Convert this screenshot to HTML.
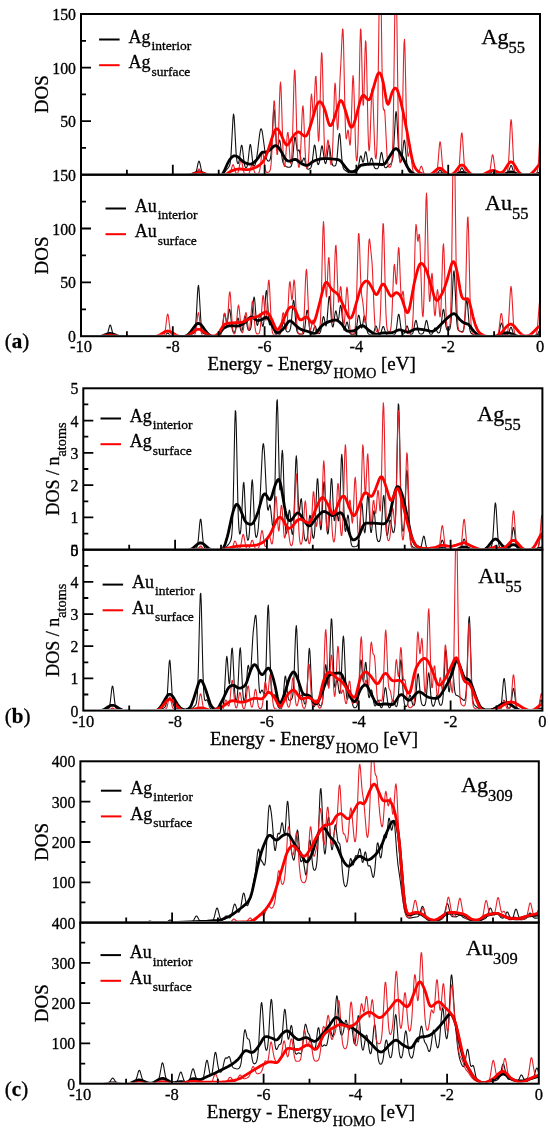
<!DOCTYPE html>
<html><head><meta charset="utf-8"><style>
html,body{margin:0;padding:0;background:#fff;width:550px;height:1132px;overflow:hidden;position:relative}
svg text{font-family:"Liberation Serif", "Times New Roman", serif;fill:#000;stroke:#000;stroke-width:0.3px}
</style></head><body>
<svg width="550" height="1132" viewBox="0 0 550 1132" style="position:absolute;left:0;top:0">
<defs>
<clipPath id="c0"><rect x="81" y="13.5" width="459" height="159.7"/></clipPath>
<clipPath id="c1"><rect x="81" y="174.2" width="459" height="160.5"/></clipPath>
<clipPath id="c2"><rect x="83.3" y="387.8" width="459.09999999999997" height="160.40000000000003"/></clipPath>
<clipPath id="c3"><rect x="83.3" y="549.2" width="459.09999999999997" height="159.89999999999998"/></clipPath>
<clipPath id="c4"><rect x="80.4" y="760.8" width="458.4" height="160.30000000000007"/></clipPath>
<clipPath id="c5"><rect x="80.2" y="922.1" width="458.59999999999997" height="160.10000000000002"/></clipPath>
</defs>
<g clip-path="url(#c0)" fill="none" stroke-linejoin="round">
<polyline points="81.0,175.2 182.0,175.2 187.0,175.1 190.0,174.9 192.0,174.6 194.0,174.1 195.0,173.6 195.5,173.1 196.0,172.2 196.5,170.8 198.0,163.7 198.5,161.8 199.0,161.1 199.5,161.8 200.0,163.7 201.5,170.8 202.0,172.2 202.5,173.1 203.0,173.6 203.5,173.9 205.0,174.3 207.0,174.7 211.0,175.1 219.0,175.2 221.0,174.9 222.0,174.5 223.0,173.9 224.0,173.0 228.5,167.5 229.5,165.7 230.0,163.9 230.5,160.7 231.0,155.4 233.0,118.3 233.5,114.1 234.0,115.8 234.5,122.7 236.0,151.6 236.5,157.7 237.0,161.3 237.5,163.1 238.0,163.6 238.5,163.1 239.0,161.5 239.5,158.8 241.0,147.1 241.5,145.2 242.0,145.7 242.5,148.5 244.0,161.6 244.5,164.6 245.0,166.4 245.5,167.4 246.0,167.8 246.5,167.6 247.0,166.7 247.5,164.9 248.0,161.8 249.5,147.8 250.0,144.8 250.5,144.5 251.0,146.9 252.5,160.5 253.0,163.7 253.5,165.4 254.0,166.1 254.5,165.8 255.0,164.9 255.5,163.5 256.5,158.9 257.5,152.1 259.5,135.2 260.0,132.0 260.5,129.7 261.0,128.7 261.5,129.1 262.0,130.6 262.5,133.3 265.0,151.8 266.0,156.9 266.5,158.6 267.0,159.8 267.5,160.5 268.0,160.9 268.5,161.1 269.0,161.0 269.5,160.6 270.0,159.8 270.5,158.0 271.0,154.6 271.5,148.9 272.0,140.7 273.0,120.0 273.5,112.1 274.0,109.0 274.5,111.7 275.0,119.2 276.0,138.5 276.5,145.5 277.0,149.0 277.5,149.3 278.0,147.2 279.0,141.1 279.5,140.0 280.0,141.1 280.5,144.3 282.0,157.5 282.5,160.4 283.0,162.4 283.5,163.7 284.0,164.6 285.0,165.7 286.0,166.4 287.0,166.9 288.0,167.2 289.5,167.2 290.5,166.9 291.0,166.4 291.5,165.3 292.0,163.3 292.5,160.1 293.0,155.3 294.0,143.5 294.5,138.9 295.0,137.0 295.5,138.3 297.0,149.5 297.5,151.0 298.0,150.9 298.5,150.1 299.0,149.9 299.5,151.1 301.0,159.9 301.5,161.8 302.0,162.2 302.5,161.3 303.5,158.4 304.0,158.0 304.5,158.8 306.5,167.0 307.0,168.2 307.5,168.9 308.0,169.2 308.5,169.2 309.0,169.1 310.0,168.6 310.5,168.1 311.0,167.2 311.5,165.8 312.0,163.4 312.5,159.9 314.0,146.9 314.5,145.0 315.0,145.6 315.5,148.6 317.0,160.8 317.5,163.3 318.0,164.5 318.5,164.6 319.0,163.6 319.5,161.5 321.0,150.0 321.5,146.9 322.0,145.7 322.5,146.9 324.5,161.1 325.0,163.0 325.5,163.6 326.0,162.9 326.5,161.0 327.0,157.7 328.0,149.3 328.5,146.1 329.0,144.9 329.5,146.1 330.0,149.4 331.0,157.9 331.5,161.2 332.0,163.5 332.5,164.9 333.0,165.6 333.5,165.9 334.0,166.0 335.0,165.9 335.5,165.5 336.0,164.4 336.5,162.4 337.0,158.8 338.5,140.3 339.0,135.3 339.5,133.5 340.0,135.6 340.5,140.9 341.5,154.9 342.0,160.5 342.5,164.5 343.0,167.0 343.5,168.4 344.0,169.3 345.0,170.2 348.0,172.2 349.0,172.7 350.0,173.0 352.0,173.1 354.0,172.8 355.5,172.4 356.5,171.8 357.0,171.2 357.5,170.2 358.0,168.6 358.5,166.4 360.0,157.6 360.5,156.0 361.0,156.0 361.5,157.3 362.5,161.4 363.0,162.2 363.5,161.5 364.0,159.3 365.0,153.3 365.5,151.7 366.0,151.9 366.5,153.9 368.0,163.4 368.5,164.9 369.0,165.1 369.5,164.1 371.0,158.6 371.5,158.0 372.0,158.6 372.5,160.3 373.5,164.7 374.0,166.4 374.5,167.6 375.0,168.3 375.5,168.6 376.5,168.8 377.5,168.6 378.0,168.0 378.5,167.0 379.0,165.2 379.5,162.5 380.5,155.8 381.0,153.3 381.5,152.3 382.0,153.3 384.0,165.1 384.5,166.7 385.0,167.6 385.5,167.8 386.0,167.7 387.0,167.0 391.0,163.3 391.5,162.6 392.0,161.5 392.5,159.8 393.0,156.6 393.5,151.4 395.5,115.5 396.0,111.5 396.5,113.3 397.0,120.2 398.5,149.0 399.0,155.1 399.5,159.0 400.0,161.1 400.5,161.9 401.0,161.7 401.5,160.3 402.0,157.6 402.5,153.6 403.5,143.7 404.0,140.5 404.5,140.2 405.0,142.9 406.5,160.0 407.0,164.7 407.5,167.8 408.0,169.8 408.5,170.9 409.0,171.6 410.0,172.5 412.0,173.6 413.0,174.0 415.0,174.5 419.0,175.0 429.0,175.2 434.0,174.8 436.0,174.5 437.0,173.9 438.0,172.7 439.5,170.3 440.0,170.0 440.5,170.3 441.0,170.9 442.5,173.4 443.0,173.9 444.0,174.5 445.5,174.8 448.0,175.0 451.0,175.1 453.0,174.9 457.0,174.2 458.0,173.9 458.5,173.6 459.5,172.3 461.0,168.8 461.5,168.0 462.0,167.8 462.5,168.3 464.0,171.6 465.0,173.2 465.5,173.7 466.5,174.1 469.0,174.6 472.0,175.0 477.0,175.2 483.0,175.1 488.0,174.6 489.0,174.4 490.0,173.8 492.0,171.3 492.5,171.0 493.0,171.1 493.5,171.6 495.0,173.6 496.0,174.3 498.0,174.7 502.0,174.7 505.5,174.2 506.5,173.9 507.5,173.3 508.0,172.8 508.5,171.9 510.5,166.1 511.0,165.4 511.5,165.7 512.0,166.8 513.0,170.1 514.0,172.5 514.5,173.2 515.0,173.6 516.0,174.1 518.0,174.6 521.0,175.0 528.0,175.2 533.0,175.0 540.0,173.8" stroke="#111" stroke-width="1.1"/>
<polyline points="81.0,174.8 183.0,174.8 193.5,174.6 195.0,174.4 196.0,173.9 197.0,172.4 198.5,169.3 199.0,169.0 199.5,169.3 200.0,170.2 201.5,173.3 202.0,173.9 203.0,174.4 206.0,174.7 213.0,174.8 223.0,174.8 227.5,174.6 229.0,174.2 229.5,173.9 230.0,173.3 230.5,172.2 231.0,170.7 232.0,166.8 232.5,165.3 233.0,164.7 233.5,165.2 234.0,166.7 235.0,170.5 235.5,172.0 236.0,173.0 236.5,173.5 237.0,173.6 237.5,173.3 238.0,172.4 238.5,170.9 240.0,162.8 240.5,160.6 241.0,159.8 241.5,160.6 242.0,162.8 243.5,170.9 244.0,172.5 244.5,173.4 245.0,173.9 246.0,174.1 247.5,174.1 248.5,173.7 249.0,173.1 249.5,172.1 250.0,170.6 251.0,167.0 251.5,165.5 252.0,165.0 252.5,165.5 253.0,166.9 254.0,170.5 254.5,172.0 255.0,172.9 255.5,173.5 256.0,173.7 256.5,173.8 257.5,173.8 258.0,173.7 258.5,173.3 259.0,172.6 259.5,171.2 260.0,168.8 260.5,165.2 261.5,156.3 262.0,152.9 262.5,151.6 263.0,152.8 263.5,156.1 264.5,164.7 265.0,168.1 265.5,170.3 266.0,171.6 266.5,172.2 267.0,172.4 267.5,172.4 269.0,171.9 269.5,171.5 270.0,170.6 270.5,168.8 271.0,165.2 271.5,158.8 272.0,148.8 273.5,108.0 274.0,100.8 274.5,101.5 275.0,109.8 276.5,148.2 277.0,154.4 277.5,154.5 278.0,147.9 278.5,135.2 279.5,100.6 280.0,87.1 280.5,82.1 281.0,87.3 281.5,101.0 283.0,151.0 283.5,160.4 284.0,165.3 284.5,166.5 285.0,164.7 285.5,160.1 287.0,137.6 287.5,132.9 288.0,132.4 288.5,136.3 290.0,158.3 290.5,162.7 291.0,163.8 291.5,160.7 292.0,152.5 292.5,138.6 294.0,80.3 294.5,70.0 295.0,71.1 295.5,83.3 297.0,141.6 297.5,154.6 298.0,162.6 298.5,166.5 299.0,167.4 299.5,165.9 300.0,161.6 300.5,153.9 301.0,143.0 302.0,116.9 302.5,108.0 303.0,105.8 303.5,111.0 305.0,148.0 305.5,157.8 306.0,164.1 306.5,167.5 307.0,168.8 307.5,168.2 308.0,165.6 308.5,160.3 309.0,151.3 310.5,108.3 311.0,97.6 311.5,94.1 312.0,98.1 313.0,114.2 313.5,116.6 314.0,111.2 315.0,86.0 315.5,76.8 316.0,76.4 316.5,85.8 318.0,134.0 318.5,141.1 319.0,138.9 319.5,127.2 321.0,64.1 321.5,52.7 322.0,54.1 322.5,68.1 324.0,134.4 324.5,148.6 325.0,156.1 325.5,158.0 326.0,155.8 327.5,141.5 328.0,140.0 328.5,141.8 330.0,158.3 330.5,162.6 331.0,164.8 331.5,164.2 332.0,160.3 332.5,152.1 333.0,139.2 334.5,90.1 335.0,83.0 335.5,85.4 337.0,123.3 337.5,129.7 338.0,127.9 338.5,118.8 340.0,79.5 341.0,60.2 342.0,37.4 342.5,29.1 343.0,29.5 343.5,41.5 345.0,113.4 345.5,130.2 346.0,138.3 346.5,139.0 347.5,131.5 348.0,130.0 348.5,132.2 349.5,142.7 350.0,145.3 350.5,142.2 351.0,132.4 352.5,83.0 353.0,75.6 353.5,78.9 354.0,91.8 355.5,144.9 356.0,155.4 356.5,160.6 357.0,160.6 357.5,155.2 358.0,143.2 358.5,123.8 360.0,43.4 360.5,29.1 361.0,30.1 361.5,45.5 362.5,91.3 363.0,104.8 363.5,105.1 364.0,92.6 365.0,52.3 365.5,40.8 366.0,42.7 366.5,58.1 368.0,130.0 368.5,144.5 369.0,150.8 369.5,149.2 370.0,140.7 371.5,96.8 372.0,88.8 372.5,89.6 373.0,98.8 374.5,143.2 375.0,152.9 375.5,158.1 376.0,158.8 376.5,154.6 377.0,143.7 377.5,123.7 378.0,93.1 379.5,-22.9 380.0,-39.4 380.5,-33.0 381.0,-6.5 382.0,66.3 382.5,92.4 383.0,106.1 383.5,109.9 384.0,109.4 384.5,110.0 385.0,114.8 387.0,155.3 387.5,161.2 388.0,164.7 388.5,166.4 389.0,167.1 389.5,167.2 390.0,167.1 390.5,166.7 391.0,166.0 391.5,164.2 392.0,160.2 392.5,151.7 393.0,135.9 393.5,110.5 395.0,-2.3 395.5,-25.9 396.0,-28.1 396.5,-8.4 398.0,104.4 398.5,131.9 399.0,149.4 399.5,158.9 400.0,162.8 400.5,162.8 401.0,158.8 401.5,150.0 402.0,134.8 402.5,113.0 403.5,61.4 404.0,43.7 404.5,39.4 405.0,49.9 406.5,123.4 407.0,141.8 407.5,152.5 408.0,156.5 408.5,155.9 409.5,150.8 410.0,150.0 410.5,151.6 412.5,168.3 413.0,170.9 413.5,172.4 414.0,173.3 414.5,173.7 415.5,174.0 416.5,174.2 417.5,174.0 418.0,173.7 418.5,173.1 419.0,172.1 420.5,167.3 421.0,166.4 421.5,166.3 422.0,167.2 423.5,172.0 424.0,173.2 424.5,174.0 425.0,174.4 425.5,174.6 426.5,174.7 432.0,174.6 435.0,174.3 435.5,174.1 436.0,173.6 436.5,172.7 437.0,170.9 437.5,167.6 438.0,162.7 439.5,144.3 440.0,141.7 440.5,142.8 441.0,147.3 442.5,165.9 443.0,169.8 443.5,172.2 444.0,173.4 444.5,174.0 445.5,174.4 450.0,174.7 453.0,174.6 456.0,174.3 457.0,174.0 457.5,173.6 458.0,172.7 458.5,170.9 459.0,167.5 459.5,162.2 461.0,138.4 461.5,133.5 462.0,133.0 462.5,137.1 464.0,160.8 464.5,166.6 465.0,170.3 465.5,172.4 466.0,173.4 466.5,173.9 467.5,174.3 470.0,174.6 476.0,174.8 486.0,174.5 487.5,174.4 488.5,174.0 489.0,173.5 489.5,172.4 490.0,170.4 490.5,167.5 492.0,156.3 492.5,154.7 493.0,155.4 493.5,158.1 495.0,169.3 495.5,171.7 496.0,173.1 496.5,173.9 497.0,174.2 497.5,174.4 500.0,174.5 503.0,174.4 505.0,174.2 506.0,173.9 506.5,173.6 507.0,172.8 507.5,171.3 508.0,168.2 508.5,162.8 509.0,154.7 510.5,123.9 511.0,119.6 511.5,121.5 512.0,129.0 513.5,159.9 514.0,166.4 514.5,170.3 515.0,172.4 515.5,173.4 516.0,173.8 516.5,174.0 518.0,174.3 521.0,174.6 525.0,174.8 530.0,174.7 534.0,174.3 536.0,173.9 536.5,173.6 537.0,172.8 537.5,171.0 538.0,167.5 538.5,161.6 539.0,153.0 540.0,131.4" stroke="#e82028" stroke-width="1.1"/>
<polyline points="81.0,175.6 185.0,175.6 188.0,175.4 190.0,175.0 192.0,174.4 197.0,172.3 199.0,172.0 201.0,172.3 206.0,174.4 209.0,175.2 213.0,175.6 219.0,175.5 220.0,175.4 221.0,175.0 222.0,174.4 223.0,173.3 224.0,171.5 227.0,164.7 229.0,160.8 230.0,159.3 231.0,158.0 232.0,157.0 233.0,156.3 234.0,155.9 235.0,155.8 236.0,156.0 238.0,157.0 239.0,157.8 242.0,160.7 243.0,161.5 245.0,162.7 248.0,163.9 250.0,164.2 251.0,164.0 252.0,163.7 253.0,163.1 254.0,162.4 256.0,160.6 258.0,158.2 261.0,153.4 262.0,152.4 263.0,152.1 266.0,152.2 267.0,151.9 269.0,150.6 274.0,146.1 275.0,145.7 276.0,145.7 277.0,146.2 278.0,147.0 279.0,148.2 281.0,151.1 284.0,156.7 285.0,158.3 286.0,159.6 287.0,160.5 288.0,161.0 289.0,161.2 290.0,161.1 294.0,159.5 295.0,159.4 296.0,159.6 297.0,160.1 300.0,162.6 302.0,163.9 305.0,165.1 306.0,165.3 307.0,165.3 308.0,165.1 309.0,164.6 312.0,162.2 314.0,161.0 317.0,159.8 320.0,159.0 323.0,158.6 328.0,158.7 334.0,159.1 338.0,159.6 339.0,159.9 340.0,160.4 341.0,161.4 346.0,167.8 348.0,170.1 349.0,171.0 350.0,171.5 351.0,171.7 353.0,171.6 355.0,170.9 356.0,170.3 357.0,169.3 359.0,166.9 360.0,165.9 361.0,165.3 362.0,165.0 365.0,164.5 369.0,164.2 376.0,164.1 382.0,164.5 383.0,164.5 384.0,164.2 385.0,163.5 386.0,162.3 393.0,150.9 394.0,149.6 395.0,148.8 396.0,148.6 397.0,149.0 398.0,149.9 400.0,152.8 403.0,158.1 407.0,166.3 408.0,168.0 410.0,170.7 412.0,172.7 413.0,173.4 415.0,174.3 418.0,175.1 422.0,175.5 430.0,175.5 433.0,175.2 438.0,174.0 440.0,173.8 442.0,174.0 447.0,175.1 449.0,175.4 451.0,175.4 454.0,174.9 460.0,172.8 462.0,172.5 464.0,172.8 470.0,174.9 472.0,175.3 474.0,175.5 478.0,175.6 482.0,175.4 485.0,175.1 490.0,174.3 492.0,174.2 494.0,174.2 499.0,174.8 501.0,174.9 503.0,174.6 504.0,174.3 509.0,172.3 511.0,172.0 513.0,172.3 518.0,174.4 520.0,175.0 523.0,175.5 528.0,175.6 531.0,175.5 533.0,175.2 535.0,174.7 539.0,173.3 540.0,173.1" stroke="#000" stroke-width="2.8"/>
<polyline points="81.0,175.6 184.0,175.6 187.0,175.4 190.0,174.9 192.0,174.4 196.0,173.0 198.0,172.5 199.0,172.5 201.0,172.7 207.0,174.7 210.0,175.3 214.0,175.6 222.0,175.6 224.0,175.3 225.0,174.9 226.0,174.4 230.0,171.7 231.0,171.1 233.0,170.4 236.0,169.4 238.0,169.1 240.0,169.0 246.0,169.6 248.0,169.6 250.0,169.4 252.0,168.8 256.0,167.2 259.0,165.5 261.0,163.8 262.0,162.8 263.0,161.5 264.0,159.9 266.0,155.8 268.0,150.6 272.0,138.0 274.0,132.4 275.0,130.2 276.0,129.0 277.0,128.8 278.0,129.4 279.0,130.6 280.0,132.3 281.0,134.3 284.0,141.5 285.0,143.3 286.0,144.7 287.0,145.1 288.0,144.6 289.0,143.3 291.0,139.5 293.0,136.5 295.0,134.0 296.0,133.1 297.0,132.4 298.0,132.0 299.0,132.1 300.0,132.6 303.0,135.2 304.0,135.9 305.0,136.2 306.0,136.0 307.0,134.8 308.0,132.8 309.0,130.2 311.0,124.0 315.0,110.1 316.0,107.2 317.0,104.7 318.0,102.9 319.0,101.8 320.0,101.6 321.0,102.2 322.0,103.5 323.0,105.3 324.0,107.5 325.0,110.2 326.0,113.6 328.0,121.2 329.0,124.1 330.0,125.6 331.0,125.5 332.0,124.1 333.0,121.7 334.0,118.9 339.0,103.1 340.0,101.1 341.0,100.5 342.0,101.3 343.0,103.4 344.0,106.2 346.0,112.5 349.0,122.9 350.0,125.6 351.0,127.1 352.0,127.2 353.0,125.9 354.0,123.5 355.0,120.5 360.0,101.6 361.0,98.5 362.0,96.3 363.0,95.3 364.0,95.4 365.0,96.3 367.0,98.8 368.0,99.7 369.0,99.8 370.0,98.7 371.0,96.2 372.0,93.0 376.0,78.9 377.0,75.9 378.0,73.7 379.0,72.7 380.0,73.1 381.0,74.8 382.0,77.7 383.0,81.6 384.0,86.6 386.0,98.3 387.0,102.7 388.0,104.4 389.0,103.0 391.0,95.8 392.0,92.7 393.0,90.5 394.0,89.0 395.0,88.1 396.0,88.3 397.0,89.5 398.0,91.9 400.0,98.5 403.0,111.4 407.0,131.6 411.0,153.5 412.0,158.4 413.0,162.4 414.0,165.3 415.0,167.5 416.0,169.0 417.0,170.3 418.0,171.3 419.0,172.1 421.0,173.4 423.0,174.3 425.0,174.9 427.0,175.1 429.0,175.0 430.0,174.7 432.0,173.6 433.0,172.9 437.0,169.2 438.0,168.6 439.0,168.2 440.0,168.2 441.0,168.5 442.0,169.1 446.0,172.7 448.0,174.0 449.0,174.4 450.0,174.6 451.0,174.5 452.0,174.3 453.0,173.8 454.0,173.0 455.0,172.0 459.0,166.8 460.0,165.8 461.0,165.2 462.0,165.0 463.0,165.3 464.0,166.0 465.0,167.1 468.0,171.1 470.0,173.3 471.0,174.0 472.0,174.6 474.0,175.2 476.0,175.4 478.0,175.4 480.0,175.2 482.0,174.7 485.0,173.6 490.0,171.0 492.0,170.5 494.0,170.7 495.0,170.9 499.0,172.5 500.0,172.7 501.0,172.6 502.0,172.3 503.0,171.7 504.0,170.7 505.0,169.3 508.0,164.5 509.0,163.1 510.0,162.2 511.0,161.9 512.0,162.1 513.0,163.0 514.0,164.3 518.0,171.0 519.0,172.3 520.0,173.4 521.0,174.2 522.0,174.7 523.0,175.1 524.0,175.3 526.0,175.4 528.0,175.1 529.0,174.8 531.0,173.9 532.0,173.1 534.0,171.1 538.0,166.0 539.0,165.1 540.0,164.5" stroke="#f00" stroke-width="2.8"/>
</g>
<rect x="81" y="14" width="459" height="160.7" fill="none" stroke="#000" stroke-width="2"/>
<path d="M81,121.1h10 M81,67.6h10 M81,147.9h5 M81,94.3h5 M81,40.8h5 M126.9,174.7v-5 M172.8,174.7v-10 M218.7,174.7v-5 M264.6,174.7v-10 M310.5,174.7v-5 M356.4,174.7v-10 M402.3,174.7v-5 M448.2,174.7v-10 M494.1,174.7v-5" stroke="#000" stroke-width="1.8" fill="none"/>
<text x="76" y="20.0" text-anchor="end" font-size="15.8">150</text>
<text x="76" y="73.6" text-anchor="end" font-size="15.8">100</text>
<text x="76" y="127.1" text-anchor="end" font-size="15.8">50</text>
<text x="76" y="180.7" text-anchor="end" font-size="15.8">150</text>
<path d="M99.1,39.5h20.5" stroke="#000" stroke-width="2"/>
<path d="M99.1,65.2h20.5" stroke="#f00" stroke-width="2"/>
<text x="128.4" y="42.7" font-size="18">Ag<tspan font-size="13.5" dx="1.0" dy="7.2">interior</tspan></text>
<text x="128.4" y="68.4" font-size="18">Ag<tspan font-size="13.5" dx="1.0" dy="7.2">surface</tspan></text>
<text x="481.5" y="43.5" font-size="22">Ag<tspan font-size="16.5" dy="9">55</tspan></text>
<text transform="translate(48,94.3) rotate(-90)" text-anchor="middle" font-size="19">DOS</text>
<g clip-path="url(#c1)" fill="none" stroke-linejoin="round">
<polyline points="81.0,336.5 98.0,336.4 103.0,336.0 105.0,335.8 106.0,335.5 106.5,335.2 107.0,334.6 107.5,333.7 108.0,332.2 109.5,326.1 110.0,325.1 110.5,325.2 111.0,326.5 112.5,332.5 113.0,333.9 113.5,334.8 114.0,335.3 114.5,335.6 117.0,336.0 121.0,336.4 125.0,336.5 163.0,336.5 164.0,336.3 165.0,335.9 165.5,335.4 167.0,333.4 167.5,333.0 168.0,333.1 168.5,333.5 170.0,335.5 170.5,335.9 171.5,336.4 173.0,336.5 181.0,336.4 184.0,336.3 187.0,335.9 189.0,335.4 192.0,334.3 193.5,333.5 194.0,333.0 194.5,332.0 195.0,330.0 195.5,326.5 196.0,320.8 196.5,312.6 197.5,293.6 198.0,287.1 198.5,285.4 199.0,289.2 201.0,323.3 201.5,328.1 202.0,330.9 202.5,332.4 203.0,333.2 203.5,333.6 206.0,334.8 209.0,335.7 211.0,336.1 213.0,336.2 216.0,336.1 218.0,335.8 219.0,335.4 220.0,335.0 220.5,334.5 221.0,333.8 221.5,332.5 222.0,330.3 224.0,315.2 224.5,313.4 225.0,313.9 226.5,321.9 227.0,322.7 227.5,321.3 229.0,310.5 229.5,309.2 230.0,310.6 230.5,314.3 232.0,327.7 232.5,330.3 233.0,331.7 233.5,332.4 234.0,332.6 234.5,332.2 235.0,331.3 235.5,329.7 236.0,327.3 237.0,321.2 237.5,318.9 238.0,318.0 238.5,318.8 240.5,329.4 241.0,330.7 241.5,331.1 242.0,330.5 242.5,328.9 243.0,326.3 244.5,317.0 245.0,316.0 245.5,316.8 247.5,327.7 248.0,329.3 248.5,330.1 249.0,330.4 249.5,330.4 250.0,329.9 250.5,329.0 251.0,327.0 251.5,323.7 253.5,299.5 254.0,297.0 254.5,298.3 255.0,303.0 256.0,316.5 256.5,321.8 257.0,324.8 257.5,325.4 258.0,323.9 259.5,315.0 260.0,314.0 260.5,315.0 262.0,324.1 262.5,326.1 263.0,326.4 263.5,324.5 264.0,320.2 265.5,297.4 266.0,291.9 266.5,290.5 267.0,293.7 268.5,316.3 269.0,321.8 269.5,324.6 270.0,325.0 270.5,323.8 271.5,320.4 272.0,320.0 272.5,321.0 274.0,329.1 274.5,331.4 275.0,333.0 275.5,334.0 276.0,334.6 277.0,335.1 278.0,335.1 279.0,334.9 279.5,334.7 280.0,334.2 280.5,333.3 281.0,331.9 281.5,329.9 283.0,322.9 283.5,322.0 284.0,322.5 284.5,324.2 285.5,328.5 286.0,330.2 286.5,331.3 287.0,331.8 287.5,332.0 288.5,331.8 289.5,331.1 290.0,330.1 290.5,328.4 291.0,325.2 291.5,320.5 293.0,302.7 293.5,300.2 294.0,301.5 294.5,306.1 295.5,319.3 296.0,324.9 296.5,328.8 297.0,331.3 297.5,332.6 298.0,333.2 298.5,333.6 299.5,333.9 301.5,334.2 302.5,334.2 303.0,334.0 303.5,333.5 304.0,332.3 304.5,330.1 305.0,326.7 306.5,312.7 307.0,310.2 307.5,310.6 308.0,313.6 309.5,327.9 310.0,331.2 310.5,333.2 311.0,334.1 311.5,334.4 312.0,334.1 312.5,333.2 314.5,326.6 315.0,326.0 315.5,326.5 317.5,332.6 318.0,333.4 318.5,333.8 319.0,333.8 319.5,333.5 320.0,332.8 320.5,331.6 321.0,329.7 322.5,320.2 323.0,317.6 323.5,316.6 324.0,317.4 325.5,324.9 326.0,325.9 326.5,324.7 327.0,321.1 328.5,301.2 329.0,296.9 329.5,296.4 330.0,300.0 331.5,320.0 332.0,324.6 332.5,326.8 333.0,326.9 333.5,325.1 335.0,313.7 335.5,311.3 336.0,310.9 336.5,312.8 337.5,318.9 338.0,320.3 338.5,319.5 339.0,316.4 340.0,307.6 340.5,305.3 341.0,305.8 341.5,309.2 343.0,325.1 343.5,328.4 344.0,330.0 344.5,330.0 345.0,328.8 346.5,322.6 347.0,322.0 347.5,322.8 349.5,331.9 350.0,333.2 350.5,334.0 351.0,334.4 352.0,334.6 354.0,334.5 354.5,334.2 355.0,333.7 355.5,332.7 356.0,331.0 356.5,328.2 358.0,317.2 358.5,315.2 359.0,315.3 359.5,317.4 360.5,324.2 361.0,326.9 361.5,328.1 362.0,327.7 362.5,325.7 364.0,316.6 364.5,315.7 365.0,316.8 365.5,319.7 367.0,330.0 367.5,332.0 368.0,333.3 368.5,334.0 369.0,334.3 370.0,334.7 371.5,334.9 372.0,334.9 372.5,334.6 373.0,334.1 373.5,333.2 374.0,331.7 375.5,326.5 376.0,326.0 376.5,326.6 378.5,333.3 379.0,334.3 379.5,334.6 380.0,334.4 380.5,333.7 381.0,332.5 382.5,327.4 383.0,326.5 383.5,326.6 384.0,327.6 385.5,332.7 386.0,333.8 386.5,334.5 387.0,334.9 387.5,335.1 388.5,335.2 392.0,335.2 394.0,334.8 394.5,334.6 395.0,334.0 395.5,333.0 396.0,331.1 396.5,328.2 398.0,316.4 398.5,314.3 399.0,314.5 399.5,316.9 401.0,328.6 401.5,331.2 402.0,332.9 402.5,333.8 403.0,334.1 403.5,334.0 404.0,333.6 404.5,332.7 406.5,326.5 407.0,326.0 407.5,326.5 409.0,331.4 409.5,332.8 410.0,333.7 410.5,334.2 411.0,334.4 411.5,334.3 412.0,334.1 412.5,333.5 413.0,332.5 413.5,330.8 415.0,322.7 415.5,320.8 416.0,320.3 416.5,321.4 418.0,329.2 418.5,331.3 419.0,332.7 419.5,333.4 420.0,333.8 420.5,334.0 421.5,334.1 422.5,333.9 423.0,333.4 423.5,332.6 424.0,331.1 425.5,323.2 426.0,321.1 426.5,320.3 427.0,321.2 427.5,323.4 429.0,331.4 429.5,333.0 430.0,333.9 430.5,334.3 431.0,334.5 431.5,334.3 432.0,334.0 432.5,333.3 434.5,328.5 435.0,328.0 435.5,328.2 436.0,329.1 437.0,331.4 437.5,332.2 438.0,332.8 438.5,333.0 439.0,332.9 439.5,332.4 440.0,331.5 440.5,329.7 441.0,326.9 442.5,313.5 443.0,310.2 443.5,309.2 444.0,310.9 445.5,323.3 446.0,326.6 446.5,328.7 447.0,329.8 447.5,330.3 448.0,330.4 449.0,330.1 449.5,329.6 450.0,328.5 450.5,326.2 451.0,321.9 451.5,314.8 453.0,281.0 453.5,272.9 454.0,270.8 454.5,275.6 456.5,318.2 457.0,324.2 457.5,327.6 458.0,329.5 458.5,330.4 459.0,330.8 460.5,331.4 462.0,331.7 462.5,331.5 463.0,331.0 463.5,329.7 464.0,327.2 464.5,323.1 466.0,304.7 466.5,300.9 467.0,300.5 467.5,303.8 469.0,322.6 469.5,327.3 470.0,330.4 470.5,332.2 471.0,333.1 472.0,334.0 473.0,334.4 476.0,335.3 478.0,335.8 482.0,336.2 486.0,336.4 491.0,336.4 495.0,336.2 497.0,336.0 497.5,335.8 498.0,335.3 498.5,334.5 499.0,333.1 500.5,325.9 501.0,323.9 501.5,323.1 502.0,323.8 502.5,325.6 504.0,332.5 504.5,333.8 505.0,334.5 505.5,334.9 506.0,335.1 507.0,335.0 507.5,334.7 508.0,334.2 508.5,333.3 509.0,332.1 510.0,328.8 510.5,327.6 511.0,327.2 511.5,327.7 513.0,332.5 513.5,333.9 514.0,334.8 514.5,335.4 515.0,335.7 517.0,336.1 522.0,336.4 529.0,336.5 534.0,336.3 536.0,336.0 537.0,335.3 537.5,334.7 539.0,331.3 539.5,330.4 540.0,330.0" stroke="#111" stroke-width="1.1"/>
<polyline points="81.0,336.3 99.0,336.3 106.0,336.1 107.0,335.7 107.5,335.4 109.0,333.7 109.5,333.2 110.0,333.0 110.5,333.2 112.0,334.9 113.0,335.7 114.0,336.1 115.0,336.1 124.0,336.3 153.0,336.3 159.0,336.1 163.0,335.7 163.5,335.5 164.0,335.0 164.5,333.9 165.0,331.9 165.5,328.8 167.0,316.3 167.5,314.1 168.0,314.4 168.5,317.0 170.0,329.5 170.5,332.4 171.0,334.1 171.5,335.1 172.0,335.6 172.5,335.8 174.0,336.0 182.0,336.2 188.0,336.1 193.5,335.7 194.0,335.5 194.5,335.1 195.0,334.2 195.5,332.5 196.0,329.7 196.5,325.8 197.5,316.5 198.0,313.4 198.5,312.6 199.0,314.4 200.5,327.5 201.0,331.0 201.5,333.3 202.0,334.6 202.5,335.2 203.0,335.6 204.0,335.8 210.0,336.1 215.0,336.2 218.0,336.0 219.5,335.7 220.0,335.5 220.5,335.1 221.0,334.3 221.5,332.9 222.0,330.4 222.5,326.8 223.5,318.0 224.0,314.5 224.5,313.2 225.0,314.3 226.0,320.8 226.5,323.3 227.0,323.3 227.5,320.0 228.0,313.6 229.0,297.4 229.5,292.3 230.0,291.8 230.5,296.2 232.0,321.1 232.5,327.2 233.0,331.0 233.5,333.1 234.0,334.0 234.5,334.0 235.0,333.2 235.5,331.3 236.0,328.1 236.5,323.4 237.5,311.4 238.0,306.8 238.5,305.1 239.0,306.8 239.5,311.4 241.0,328.0 241.5,331.1 242.0,332.6 242.5,332.7 243.0,331.5 243.5,329.0 245.0,316.4 245.5,313.3 246.0,312.5 246.5,314.3 248.0,326.5 248.5,329.3 249.0,330.4 249.5,329.5 250.0,326.5 252.0,302.9 252.5,301.0 253.0,302.9 253.5,308.0 254.5,321.4 255.0,326.8 255.5,330.4 256.0,332.5 256.5,333.5 257.0,334.0 258.0,334.1 258.5,333.9 259.0,333.4 259.5,332.4 260.0,330.2 260.5,326.3 261.0,320.5 262.5,298.5 263.0,295.4 263.5,296.7 264.0,301.8 265.0,315.7 265.5,319.9 266.0,320.2 266.5,315.9 267.0,307.7 268.0,287.1 268.5,280.8 269.0,280.2 269.5,285.8 271.0,317.2 271.5,324.9 272.0,329.8 272.5,332.6 273.0,334.0 273.5,334.6 274.5,335.1 276.0,335.5 277.5,335.5 278.5,335.4 279.0,335.1 279.5,334.5 280.0,333.3 280.5,331.3 281.0,328.1 282.5,315.1 283.0,312.8 283.5,312.9 284.0,315.4 285.5,327.2 286.0,328.9 286.5,328.3 287.0,325.1 287.5,318.8 289.0,289.2 289.5,282.8 290.0,281.6 290.5,285.5 291.5,298.0 292.0,300.2 292.5,297.4 293.5,284.0 294.0,279.9 294.5,281.1 295.0,287.8 296.5,318.7 297.0,325.7 297.5,330.1 298.0,332.5 298.5,333.7 299.0,334.2 299.5,334.4 301.0,334.5 301.5,334.3 302.0,333.9 302.5,332.7 303.0,330.3 303.5,325.6 304.0,317.8 304.5,306.7 305.5,280.5 306.0,271.5 306.5,269.3 307.0,274.5 308.5,311.5 309.0,321.1 309.5,327.1 310.0,329.9 310.5,330.2 311.0,328.6 312.5,320.8 313.0,320.0 313.5,320.8 315.0,328.8 315.5,331.0 316.0,332.5 316.5,333.3 317.0,333.6 317.5,333.6 318.0,333.4 318.5,333.0 319.0,332.2 319.5,330.5 320.0,326.8 320.5,319.6 321.0,307.5 321.5,289.8 322.5,245.3 323.0,228.2 323.5,221.6 324.0,227.5 325.5,283.0 326.0,294.5 326.5,296.9 327.0,290.6 328.0,266.4 328.5,258.2 329.0,257.6 329.5,265.2 331.0,307.6 331.5,317.3 332.0,322.2 332.5,322.2 333.0,317.0 333.5,306.5 335.0,256.9 335.5,246.4 336.0,245.3 336.5,253.6 338.0,296.3 338.5,302.2 339.0,301.5 340.0,290.2 340.5,286.5 341.0,287.5 341.5,293.2 343.0,318.9 343.5,323.5 344.0,324.3 344.5,321.3 345.0,314.8 346.5,289.7 347.0,287.1 347.5,289.9 348.0,297.2 349.0,316.2 349.5,323.8 350.0,328.9 350.5,331.8 351.0,333.3 351.5,333.9 352.0,334.1 352.5,334.1 353.5,333.7 354.0,333.2 354.5,332.0 355.0,329.5 355.5,324.5 356.0,315.5 356.5,301.5 358.0,244.1 358.5,233.6 359.0,233.7 359.5,243.6 360.5,275.0 361.0,286.9 361.5,294.0 363.0,303.5 364.5,319.3 365.0,322.6 365.5,322.9 366.0,319.4 366.5,311.2 368.5,249.0 369.0,240.5 369.5,238.9 370.0,242.3 372.0,262.0 372.5,270.8 374.0,308.5 374.5,318.3 375.0,324.9 375.5,328.7 376.0,330.7 376.5,331.5 377.0,331.9 377.5,331.9 378.0,331.7 378.5,331.2 379.0,330.0 379.5,327.4 380.0,321.9 380.5,312.2 381.0,296.9 382.5,234.5 383.0,223.5 383.5,224.8 384.0,237.8 385.5,300.4 386.0,314.5 386.5,323.3 387.0,328.1 387.5,330.3 388.0,331.3 388.5,331.7 389.0,331.8 389.5,331.7 390.0,331.3 390.5,330.0 391.0,327.2 391.5,321.8 392.0,313.2 393.5,274.4 394.0,266.1 394.5,264.4 395.0,269.1 396.0,283.4 396.5,284.1 397.0,277.8 398.0,254.6 398.5,247.6 399.0,248.8 399.5,258.0 400.5,285.2 401.0,294.2 401.5,297.2 402.0,295.6 402.5,292.5 403.0,291.1 403.5,293.3 404.0,299.4 405.5,323.2 406.0,328.2 406.5,331.1 407.0,332.7 407.5,333.4 408.0,333.7 409.0,333.6 409.5,333.4 410.5,332.8 411.0,332.3 411.5,331.4 412.0,329.4 412.5,325.3 413.0,317.8 413.5,305.5 414.0,288.1 415.0,246.4 415.5,231.0 416.0,224.3 416.5,226.5 417.5,239.9 418.0,241.4 419.0,234.3 419.5,234.7 420.0,242.6 422.0,307.5 422.5,315.4 423.0,316.7 423.5,311.0 424.0,297.5 426.0,200.8 426.5,193.0 427.0,200.9 428.5,274.3 429.0,292.7 429.5,301.4 430.0,300.9 431.5,276.1 432.0,273.2 432.5,276.7 434.0,307.4 434.5,314.1 435.0,315.9 435.5,312.8 437.0,292.0 437.5,289.6 438.0,292.0 439.5,313.4 440.0,317.0 440.5,315.3 441.0,307.5 441.5,293.8 442.5,259.2 443.0,247.1 443.5,243.9 444.0,250.8 445.5,300.3 446.0,313.3 446.5,321.8 447.0,326.6 447.5,328.8 448.0,329.6 448.5,329.7 449.0,329.2 449.5,327.6 450.0,323.9 450.5,316.0 451.0,300.9 451.5,276.0 452.0,240.4 453.0,156.6 453.5,127.8 454.0,120.5 454.5,137.2 456.0,256.1 456.5,287.7 457.0,308.5 457.5,320.4 458.0,326.4 458.5,329.2 459.0,330.4 460.0,331.4 461.0,332.0 462.0,332.3 462.5,332.2 463.0,331.9 463.5,331.0 464.0,328.7 464.5,323.7 465.0,314.4 465.5,299.3 467.0,232.3 467.5,218.4 468.0,217.0 468.5,228.8 470.0,296.1 470.5,312.6 471.0,323.2 471.5,329.1 472.0,332.1 472.5,333.4 473.0,334.1 474.0,334.6 476.0,335.2 478.0,335.7 481.0,336.0 486.0,336.2 493.0,336.2 496.0,336.1 497.0,335.9 497.5,335.4 498.0,334.4 498.5,332.6 499.0,329.6 500.5,316.6 501.0,313.8 501.5,313.5 502.0,315.7 503.5,328.5 504.0,331.6 504.5,333.5 505.0,334.5 505.5,335.0 506.0,335.1 506.5,334.8 507.0,334.1 507.5,332.5 508.0,329.4 508.5,324.1 510.0,296.6 510.5,289.1 511.0,286.3 511.5,289.1 512.0,296.6 513.5,324.1 514.0,329.5 514.5,332.6 515.0,334.2 515.5,335.0 516.5,335.4 520.0,335.9 523.0,336.1 526.0,336.2 530.0,336.1 534.0,335.7 535.0,335.5 535.5,335.3 536.0,334.7 536.5,333.5 537.0,331.3 537.5,327.4 539.0,307.5 539.5,302.1 540.0,300.0" stroke="#e82028" stroke-width="1.1"/>
<polyline points="81.0,337.1 94.0,337.1 98.0,336.9 101.0,336.3 103.0,335.6 107.0,334.0 109.0,333.5 110.0,333.4 111.0,333.5 113.0,334.0 117.0,335.6 119.0,336.3 121.0,336.7 124.0,337.0 175.0,337.1 182.0,336.9 184.0,336.6 185.0,336.3 187.0,335.3 188.0,334.6 189.0,333.7 191.0,331.3 195.0,325.7 196.0,324.6 197.0,323.8 198.0,323.4 199.0,323.4 200.0,323.9 201.0,324.7 203.0,327.2 206.0,331.5 208.0,333.8 209.0,334.6 211.0,335.8 213.0,336.4 214.0,336.4 215.0,336.2 216.0,335.9 217.0,335.4 218.0,334.7 219.0,333.7 222.0,330.0 223.0,329.0 225.0,327.5 227.0,326.4 228.0,326.0 230.0,325.7 237.0,326.0 239.0,325.8 240.0,325.5 243.0,324.0 245.0,322.5 249.0,318.3 250.0,317.5 251.0,317.0 252.0,317.0 253.0,317.5 256.0,319.9 257.0,320.3 258.0,320.5 259.0,320.5 261.0,320.0 262.0,319.5 265.0,317.6 266.0,317.4 267.0,317.6 268.0,318.5 269.0,319.9 275.0,330.7 276.0,331.9 277.0,332.5 278.0,332.6 279.0,332.3 280.0,331.7 282.0,330.2 284.0,328.1 288.0,322.3 289.0,321.3 290.0,320.9 291.0,321.1 292.0,321.8 295.0,324.8 297.0,326.6 299.0,328.2 301.0,329.4 303.0,330.1 308.0,331.5 313.0,333.4 314.0,333.6 315.0,333.4 316.0,332.9 317.0,331.9 321.0,326.7 322.0,325.6 324.0,324.0 326.0,322.9 329.0,321.6 333.0,320.4 335.0,320.0 336.0,320.1 337.0,320.3 338.0,320.9 339.0,321.6 342.0,324.5 346.0,330.1 347.0,330.9 348.0,331.2 349.0,331.3 351.0,331.2 353.0,331.0 354.0,330.7 355.0,330.3 356.0,329.6 360.0,326.3 361.0,325.9 362.0,325.7 363.0,325.8 364.0,326.3 365.0,326.9 369.0,330.5 372.0,332.5 374.0,333.6 376.0,334.2 377.0,334.3 378.0,334.2 381.0,333.3 383.0,333.0 390.0,332.9 392.0,332.7 394.0,332.0 397.0,330.5 399.0,329.9 400.0,329.9 401.0,330.0 406.0,331.8 407.0,332.0 408.0,332.0 409.0,331.8 410.0,331.5 414.0,329.5 416.0,329.0 419.0,329.1 423.0,329.6 426.0,330.1 430.0,331.1 432.0,331.3 433.0,331.1 434.0,330.7 435.0,330.1 437.0,328.4 446.0,319.2 449.0,316.6 451.0,315.0 452.0,314.3 453.0,313.9 454.0,313.7 455.0,314.0 456.0,314.8 460.0,319.8 462.0,321.5 464.0,322.8 467.0,323.8 468.0,324.2 469.0,325.0 470.0,326.2 473.0,330.3 474.0,331.4 476.0,333.3 478.0,334.7 479.0,335.2 481.0,335.9 484.0,336.5 487.0,336.8 490.0,336.8 493.0,336.6 495.0,336.3 497.0,335.9 504.0,333.2 506.0,332.8 507.0,332.7 508.0,332.8 510.0,333.2 516.0,335.6 518.0,336.2 520.0,336.6 523.0,337.0 528.0,337.1 532.0,336.9 534.0,336.5 538.0,335.3 540.0,334.8" stroke="#000" stroke-width="2.8"/>
<polyline points="81.0,337.1 94.0,337.1 98.0,337.0 101.0,336.6 107.0,335.3 110.0,335.0 113.0,335.3 119.0,336.6 123.0,337.0 145.0,337.1 152.0,337.0 155.0,336.6 157.0,336.1 160.0,334.7 165.0,331.7 167.0,331.1 168.0,331.0 169.0,331.2 171.0,332.0 176.0,335.0 178.0,335.9 179.0,336.2 181.0,336.6 184.0,336.6 186.0,336.2 187.0,335.9 189.0,335.0 191.0,333.7 195.0,330.5 197.0,329.5 198.0,329.3 199.0,329.3 200.0,329.5 201.0,329.9 203.0,331.3 206.0,333.6 208.0,334.8 209.0,335.2 210.0,335.6 212.0,336.0 214.0,336.0 215.0,335.7 216.0,335.2 217.0,334.6 218.0,333.7 219.0,332.6 220.0,331.0 223.0,325.9 224.0,324.8 225.0,324.1 227.0,323.5 229.0,323.1 232.0,322.9 240.0,322.5 242.0,322.2 243.0,321.9 245.0,321.1 250.0,318.6 252.0,318.0 256.0,317.0 258.0,316.3 259.0,315.7 264.0,312.5 265.0,312.1 266.0,312.0 267.0,312.3 268.0,313.1 269.0,314.4 270.0,316.0 272.0,319.9 275.0,327.0 276.0,328.8 277.0,329.7 278.0,329.5 279.0,328.5 280.0,327.0 283.0,320.9 287.0,311.6 288.0,309.7 289.0,308.3 290.0,307.4 291.0,306.9 292.0,306.8 293.0,307.2 294.0,308.2 295.0,309.6 296.0,311.4 298.0,316.5 299.0,318.7 300.0,319.8 301.0,320.0 302.0,319.5 305.0,317.3 306.0,317.0 307.0,317.3 308.0,318.1 311.0,322.2 312.0,323.0 313.0,323.1 314.0,322.1 315.0,319.9 316.0,316.8 320.0,301.5 323.0,289.3 324.0,285.9 325.0,283.5 326.0,282.4 327.0,282.5 328.0,283.5 331.0,288.2 332.0,289.6 333.0,290.6 336.0,292.7 337.0,293.5 338.0,294.6 339.0,296.1 340.0,298.0 348.0,315.8 349.0,317.4 350.0,318.2 351.0,318.0 352.0,316.6 353.0,314.3 354.0,311.2 359.0,293.6 361.0,287.4 362.0,285.2 363.0,283.6 364.0,282.5 365.0,281.6 366.0,281.1 367.0,281.1 368.0,281.6 369.0,282.7 371.0,285.9 375.0,293.6 376.0,294.6 377.0,294.4 378.0,293.0 381.0,286.4 382.0,284.8 383.0,284.1 384.0,284.4 385.0,285.8 389.0,293.7 390.0,295.2 391.0,296.1 392.0,296.2 393.0,295.5 395.0,293.3 396.0,292.7 397.0,292.7 398.0,293.2 399.0,294.2 400.0,295.4 401.0,297.1 402.0,299.2 403.0,302.0 405.0,308.3 406.0,311.0 407.0,312.5 408.0,312.4 409.0,310.2 410.0,306.2 414.0,284.2 416.0,275.6 418.0,268.4 419.0,265.7 420.0,264.0 421.0,263.3 422.0,263.5 423.0,264.4 424.0,265.7 425.0,267.4 426.0,269.4 427.0,272.0 428.0,275.0 434.0,295.9 435.0,298.5 436.0,300.0 437.0,300.4 438.0,299.9 439.0,298.8 441.0,295.6 443.0,291.6 445.0,286.4 447.0,280.3 451.0,265.8 452.0,263.1 453.0,261.7 454.0,261.9 455.0,263.8 456.0,267.1 457.0,271.5 458.0,276.7 460.0,288.9 461.0,294.0 462.0,297.1 463.0,298.5 464.0,299.0 465.0,299.1 467.0,298.6 468.0,299.0 469.0,300.8 470.0,304.1 473.0,316.8 475.0,323.9 476.0,326.7 477.0,328.9 478.0,330.8 479.0,332.2 480.0,333.2 481.0,333.9 484.0,335.5 485.0,335.9 487.0,336.3 490.0,336.4 493.0,336.4 495.0,336.2 497.0,335.6 499.0,334.6 501.0,333.1 503.0,330.9 506.0,327.2 508.0,325.2 509.0,324.6 510.0,324.2 511.0,324.2 512.0,324.5 513.0,325.1 514.0,326.0 519.0,332.0 521.0,334.0 522.0,334.7 524.0,335.7 525.0,335.9 527.0,335.9 529.0,335.4 531.0,334.2 533.0,332.4 537.0,328.2 538.0,327.4 539.0,326.7 540.0,326.3" stroke="#f00" stroke-width="2.8"/>
</g>
<rect x="81" y="174.7" width="459" height="161.5" fill="none" stroke="#000" stroke-width="2"/>
<path d="M81,282.4h10 M81,228.5h10 M81,309.3h5 M81,255.4h5 M81,201.6h5 M126.9,336.2v-5 M172.8,336.2v-10 M218.7,336.2v-5 M264.6,336.2v-10 M310.5,336.2v-5 M356.4,336.2v-10 M402.3,336.2v-5 M448.2,336.2v-10 M494.1,336.2v-5" stroke="#000" stroke-width="1.8" fill="none"/>
<text x="76" y="234.5" text-anchor="end" font-size="15.8">100</text>
<text x="76" y="288.4" text-anchor="end" font-size="15.8">50</text>
<text x="76" y="342.2" text-anchor="end" font-size="15.8">0</text>
<text x="81.0" y="352.2" text-anchor="middle" font-size="16.5">-10</text>
<text x="172.8" y="352.2" text-anchor="middle" font-size="16.5">-8</text>
<text x="264.6" y="352.2" text-anchor="middle" font-size="16.5">-6</text>
<text x="356.4" y="352.2" text-anchor="middle" font-size="16.5">-4</text>
<text x="448.2" y="352.2" text-anchor="middle" font-size="16.5">-2</text>
<text x="540.0" y="352.2" text-anchor="middle" font-size="16.5">0</text>
<text x="207.6" y="370.2" font-size="19">Energy - Energy<tspan font-size="14" dx="1" dy="8">HOMO</tspan><tspan dy="-8"> [eV]</tspan></text>
<text x="4.8" y="348.1" font-size="21">(<tspan font-weight="bold">a</tspan>)</text>
<path d="M105.5,208.5h20.5" stroke="#000" stroke-width="2"/>
<path d="M105.5,234.2h20.5" stroke="#f00" stroke-width="2"/>
<text x="134.8" y="211.7" font-size="18">Au<tspan font-size="13.5" dx="1.0" dy="7.2">interior</tspan></text>
<text x="134.8" y="237.39999999999998" font-size="18">Au<tspan font-size="13.5" dx="1.0" dy="7.2">surface</tspan></text>
<text x="485" y="209.8" font-size="22">Au<tspan font-size="16.5" dy="9">55</tspan></text>
<text transform="translate(48,255.4) rotate(-90)" text-anchor="middle" font-size="19">DOS</text>
<g clip-path="url(#c2)" fill="none" stroke-linejoin="round">
<polyline points="83.3,550.0 184.3,550.0 187.3,549.9 190.3,549.7 194.3,548.9 195.8,548.4 196.3,548.0 196.8,547.3 197.3,545.9 197.8,543.5 198.3,539.7 199.8,523.0 200.3,519.5 200.8,519.2 201.3,522.1 202.8,538.8 203.3,542.9 203.8,545.6 204.3,547.1 204.8,547.9 205.8,548.5 209.3,549.4 212.3,549.8 217.3,550.0 220.3,549.8 222.3,549.5 223.3,549.2 224.3,548.7 225.3,547.9 227.3,545.9 228.3,544.7 229.8,542.5 230.8,540.4 231.3,538.5 231.8,534.9 232.3,528.0 232.8,516.1 233.3,497.9 234.8,423.7 235.3,410.6 235.8,411.9 236.3,427.0 237.8,500.1 238.3,516.7 238.8,527.0 239.3,532.3 239.8,534.1 240.3,533.3 240.8,529.9 241.3,523.5 242.8,491.6 243.3,484.0 243.8,482.3 244.3,487.3 245.8,521.0 246.3,529.9 246.8,535.7 247.3,538.9 247.8,540.2 248.3,539.9 248.8,537.9 249.3,533.6 249.8,526.2 251.3,490.7 251.8,482.0 252.3,479.7 252.8,484.5 254.3,519.2 254.8,528.1 255.3,533.8 255.8,536.6 256.3,537.4 256.8,536.7 257.3,534.9 257.8,532.0 258.3,527.9 259.3,514.7 262.3,451.7 262.8,445.9 263.3,443.6 263.8,445.4 264.3,450.7 264.8,459.2 266.3,491.2 266.8,500.2 267.3,506.6 267.8,509.8 268.3,510.1 269.3,506.0 269.8,504.8 270.3,506.1 270.8,509.8 272.3,524.7 272.8,526.7 273.3,525.8 273.8,520.9 274.3,510.5 274.8,493.5 276.3,417.5 276.8,401.6 277.3,399.7 277.8,412.2 279.3,479.2 279.8,489.7 280.3,489.3 280.8,480.4 281.8,455.4 282.3,450.2 282.8,454.1 283.3,466.5 284.8,516.1 285.3,526.3 285.8,531.9 286.3,533.8 286.8,532.6 287.3,528.9 288.8,512.3 289.3,510.0 289.8,511.1 290.3,515.4 291.3,527.5 291.8,532.1 292.3,534.5 292.8,533.8 293.3,529.5 293.8,520.8 295.3,473.9 295.8,460.9 296.3,455.9 296.8,460.3 298.3,501.2 298.8,509.7 299.3,511.8 299.8,508.9 300.8,499.5 301.3,498.7 301.8,502.3 303.3,526.3 303.8,532.6 304.3,536.9 304.8,539.3 305.3,540.6 305.8,541.0 306.3,540.7 306.8,539.6 307.3,537.4 307.8,533.6 309.3,518.1 309.8,515.3 310.3,515.6 310.8,518.7 312.3,533.9 312.8,537.0 313.3,538.4 313.8,537.9 314.3,535.2 314.8,529.7 315.3,521.0 316.8,485.0 317.3,478.7 317.8,479.2 318.3,486.4 319.8,520.7 320.3,527.4 320.8,529.8 321.3,527.8 321.8,521.5 323.3,489.3 323.8,482.5 324.3,481.8 324.8,487.6 326.3,520.3 326.8,528.2 327.3,532.7 327.8,534.2 328.3,532.6 328.8,527.8 329.3,519.6 330.8,484.7 331.3,478.6 331.8,479.2 332.3,486.3 333.3,508.5 333.8,516.9 334.3,520.7 334.8,520.2 335.8,512.8 336.3,510.3 336.8,510.5 338.3,520.9 338.8,520.6 339.3,515.1 339.8,503.8 341.3,458.9 341.8,454.3 342.3,459.3 342.8,472.6 343.8,506.9 344.3,520.1 344.8,528.3 345.3,531.5 345.8,530.7 346.3,527.0 347.3,517.5 347.8,515.1 348.3,515.9 348.8,519.8 350.3,537.5 350.8,541.5 351.3,544.1 351.8,545.5 352.3,546.3 353.3,546.7 354.3,546.7 355.8,546.5 356.8,546.2 357.3,545.8 357.8,544.9 358.3,543.2 358.8,540.0 359.3,534.9 360.8,510.4 361.3,504.3 361.8,502.5 362.3,505.4 363.8,527.0 364.3,531.6 364.8,532.9 365.3,530.5 365.8,524.4 367.3,498.3 367.8,494.5 368.3,496.2 368.8,502.6 369.8,521.1 370.3,528.3 370.8,532.2 371.3,532.5 371.8,529.6 373.3,513.2 373.8,510.8 374.3,511.9 374.8,516.2 375.8,528.6 376.3,533.9 376.8,537.6 377.3,539.8 377.8,541.0 378.3,541.5 378.8,541.6 379.3,541.4 379.8,540.6 380.3,538.9 380.8,535.6 381.3,530.0 382.8,503.4 383.3,497.0 383.8,495.3 384.3,499.0 385.8,525.0 386.3,531.4 386.8,534.9 387.3,535.6 387.8,533.9 389.3,522.8 389.8,520.4 390.3,520.1 390.8,521.6 392.3,530.2 392.8,531.9 393.3,532.6 393.8,532.3 394.3,530.8 394.8,527.5 395.3,520.7 395.8,508.9 396.3,490.6 397.8,416.7 398.3,403.8 398.8,405.5 399.3,421.1 400.8,495.6 401.3,512.5 401.8,523.1 402.3,528.8 402.8,531.2 403.3,531.1 403.8,528.7 404.3,523.3 404.8,514.2 406.3,476.4 406.8,470.2 407.3,471.7 407.8,480.8 409.3,523.0 409.8,532.7 410.3,539.0 410.8,542.6 411.3,544.6 411.8,545.6 412.3,546.3 413.3,547.1 414.3,547.7 416.3,548.5 418.8,549.0 419.8,548.8 420.3,548.4 420.8,547.6 421.3,546.2 422.8,538.8 423.3,536.8 423.8,536.1 424.3,536.9 424.8,539.0 425.8,544.4 426.3,546.6 426.8,548.0 427.3,548.9 427.8,549.4 428.8,549.7 432.3,549.9 435.3,549.8 437.8,549.5 438.8,549.0 439.3,548.4 439.8,547.3 441.3,542.1 441.8,540.7 442.3,540.2 442.8,540.7 443.3,542.2 444.8,547.4 445.3,548.4 445.8,549.1 446.3,549.4 447.3,549.7 448.3,549.8 453.3,549.9 457.3,549.6 459.8,549.1 460.3,548.9 460.8,548.4 461.3,547.5 461.8,546.2 463.3,540.4 463.8,539.2 464.3,539.1 464.8,540.1 466.3,545.9 466.8,547.3 467.3,548.3 467.8,548.8 468.3,549.1 469.8,549.5 473.3,549.8 477.3,549.9 481.3,549.9 485.3,549.5 487.3,549.0 489.8,548.0 490.8,547.4 491.3,546.6 491.8,545.3 492.3,542.6 492.8,538.1 493.3,531.4 494.8,506.3 495.3,502.8 495.8,504.4 496.3,510.4 497.3,528.2 497.8,535.7 498.3,541.1 498.8,544.4 499.3,546.2 499.8,547.1 500.3,547.6 502.3,548.5 504.3,548.9 505.3,549.1 507.3,549.0 508.3,548.8 509.3,548.4 509.8,547.8 510.3,546.7 510.8,544.7 511.3,541.7 512.8,529.6 513.3,527.5 513.8,527.8 514.3,530.3 515.8,542.5 516.3,545.3 516.8,547.0 517.3,548.0 517.8,548.6 518.3,548.8 521.3,549.5 525.3,549.9 532.3,549.9 536.3,549.6 536.8,549.4 537.3,549.0 537.8,548.3 538.3,546.9 538.8,544.9 540.3,536.6 540.8,535.1 541.3,535.3 541.8,537.0 542.3,539.7" stroke="#111" stroke-width="1.1"/>
<polyline points="83.3,549.8 194.3,549.8 196.3,549.6 197.3,549.4 198.3,548.6 199.8,546.5 200.3,546.1 200.8,546.0 201.3,546.4 202.8,548.5 203.3,549.0 203.8,549.3 204.8,549.6 208.3,549.8 214.3,549.8 229.8,549.4 230.8,549.3 231.3,549.0 231.8,548.6 232.3,547.9 232.8,546.7 234.3,541.9 234.8,541.1 235.3,541.2 235.8,542.1 237.3,546.8 237.8,547.9 238.3,548.5 238.8,548.7 239.3,548.7 239.8,548.2 240.3,547.1 240.8,545.4 241.3,542.9 242.3,537.1 242.8,535.0 243.3,534.5 243.8,535.7 245.3,544.0 245.8,546.2 246.3,547.6 246.8,548.4 247.3,548.8 247.8,548.9 248.3,548.8 248.8,548.5 249.3,547.9 249.8,546.8 250.3,545.3 251.3,541.8 251.8,540.5 252.3,540.2 252.8,540.9 254.3,545.9 254.8,547.3 255.3,548.1 255.8,548.6 256.3,548.8 257.3,548.9 257.8,548.7 258.3,548.2 258.8,547.3 259.3,545.6 259.8,543.1 261.3,532.5 261.8,530.6 262.3,530.8 262.8,532.9 264.3,543.2 264.8,545.4 265.3,546.5 265.8,546.5 266.3,545.7 266.8,544.0 268.3,536.5 268.8,535.2 269.3,535.2 269.8,536.6 271.3,543.1 271.8,544.0 272.3,543.5 272.8,541.1 273.3,536.3 273.8,528.8 275.3,500.2 275.8,496.2 276.3,497.7 276.8,504.2 277.8,522.5 278.3,528.9 278.8,531.1 279.3,529.0 280.8,509.2 281.3,505.3 281.8,505.9 282.3,510.8 283.8,532.9 284.3,536.9 284.8,537.9 285.3,536.3 286.8,526.1 287.3,525.0 287.8,526.3 289.3,538.3 289.8,541.7 290.3,543.9 290.8,545.2 291.3,545.7 291.8,545.5 292.3,544.5 292.8,542.2 293.3,537.6 293.8,529.7 295.3,489.2 295.8,478.1 296.3,473.9 296.8,478.0 297.3,488.9 298.8,529.0 299.3,536.7 299.8,541.2 300.3,543.4 300.8,544.2 301.3,544.0 301.8,542.7 302.3,540.0 302.8,535.2 303.3,528.1 304.3,510.2 304.8,503.4 305.3,500.9 305.8,503.5 306.3,510.4 307.8,535.5 308.3,540.3 308.8,542.9 309.3,543.8 309.8,543.2 310.3,540.7 310.8,536.0 311.3,528.4 312.8,497.3 313.3,491.7 313.8,492.0 314.3,498.0 315.3,516.7 315.8,523.6 316.3,526.5 316.8,525.4 317.8,517.8 318.3,515.3 318.8,515.4 320.3,525.0 320.8,524.7 321.3,519.4 321.8,508.5 323.3,465.3 323.8,460.8 324.3,465.6 324.8,478.1 325.8,510.4 326.3,522.4 326.8,529.3 327.3,530.7 327.8,527.3 329.3,504.5 329.8,500.3 330.3,501.0 330.8,506.4 332.3,531.8 332.8,537.4 333.3,540.7 333.8,542.0 334.3,541.4 334.8,538.7 335.3,533.3 335.8,524.8 337.3,489.8 337.8,483.6 338.3,484.0 338.8,491.1 340.3,524.9 340.8,532.1 341.3,535.6 341.8,535.4 342.3,531.1 342.8,522.0 343.3,507.5 344.8,452.6 345.3,444.8 345.8,447.9 346.3,460.4 347.3,493.8 347.8,504.5 348.3,508.2 348.8,506.5 349.3,502.5 349.8,500.0 350.3,501.2 350.8,506.3 351.8,520.1 352.3,523.2 352.8,520.8 353.3,512.9 354.3,488.7 354.8,479.7 355.3,477.4 355.8,482.6 357.3,520.2 357.8,530.0 358.3,536.0 358.8,538.4 359.3,537.4 359.8,532.6 360.3,523.1 360.8,508.5 362.3,452.9 362.8,444.8 363.3,447.5 364.8,488.4 365.3,494.3 365.8,491.0 367.3,456.2 367.8,453.8 368.3,461.0 369.8,509.4 370.3,520.6 370.8,525.6 371.3,524.7 371.8,519.5 372.8,504.8 373.3,500.6 373.8,500.4 375.3,513.1 375.8,513.4 376.3,509.3 377.3,494.8 377.8,490.4 378.3,490.9 378.8,496.1 379.8,510.0 380.3,511.0 380.8,503.8 381.3,487.2 382.8,413.3 383.3,402.7 383.8,407.7 384.3,426.7 385.3,482.0 385.8,505.4 386.3,521.9 386.8,531.9 387.3,537.2 387.8,539.7 388.3,540.6 388.8,540.6 389.3,539.7 389.8,537.4 390.3,533.6 390.8,527.9 391.8,514.2 392.3,509.4 392.8,508.0 393.3,510.4 394.3,521.0 394.8,524.2 395.3,522.7 395.8,514.2 396.3,497.6 397.8,423.6 398.3,410.5 398.8,412.2 399.3,428.1 400.8,504.4 401.3,521.6 401.8,532.3 402.3,537.9 402.8,539.9 403.3,539.1 403.8,535.2 404.3,527.3 404.8,514.6 406.3,462.0 406.8,452.9 407.3,454.3 407.8,465.7 409.3,520.2 409.8,532.5 410.3,540.2 410.8,544.4 411.3,546.5 411.8,547.5 412.3,548.0 413.8,548.6 416.3,549.1 422.3,549.5 428.3,549.5 435.3,549.4 437.3,549.2 437.8,549.0 438.3,548.6 438.8,547.9 439.3,546.3 439.8,543.8 441.3,530.5 441.8,526.9 442.3,525.5 442.8,526.9 443.3,530.5 444.8,543.8 445.3,546.3 445.8,547.8 446.3,548.6 446.8,549.0 447.3,549.1 450.3,549.2 458.3,548.9 459.3,548.7 459.8,548.5 460.3,547.8 460.8,546.6 461.3,544.2 461.8,540.3 463.3,523.3 463.8,519.7 464.3,519.4 464.8,522.4 466.3,539.4 466.8,543.6 467.3,546.2 467.8,547.7 468.3,548.5 468.8,548.8 469.8,549.0 479.3,549.6 485.3,549.7 490.8,549.5 491.8,549.3 492.8,548.6 494.8,545.8 495.3,545.5 495.8,545.6 496.3,546.2 497.8,548.4 498.3,548.9 499.3,549.4 500.8,549.5 503.3,549.5 506.3,549.2 508.3,548.8 508.8,548.6 509.3,548.1 509.8,547.2 510.3,545.2 510.8,541.8 511.3,536.5 512.8,514.7 513.3,510.9 513.8,511.3 514.3,515.9 515.8,537.7 516.3,542.6 516.8,545.7 517.3,547.4 517.8,548.3 518.3,548.7 518.8,548.9 523.3,549.6 526.3,549.8 530.3,549.7 533.3,549.4 535.3,549.0 536.8,548.5 537.3,548.3 537.8,547.8 538.3,546.9 538.8,545.2 539.3,542.1 539.8,537.5 541.3,518.6 541.8,515.3 542.3,515.6" stroke="#e82028" stroke-width="1.1"/>
<polyline points="83.3,550.6 179.3,550.6 185.3,550.5 188.3,550.2 190.3,549.6 191.3,549.1 193.3,547.8 197.3,544.3 198.3,543.6 199.3,543.2 200.3,542.9 201.3,543.0 202.3,543.3 203.3,543.9 208.3,548.1 209.3,548.8 211.3,549.7 213.3,550.2 216.3,550.5 218.3,550.5 220.3,550.2 221.3,549.8 222.3,549.2 223.3,548.1 224.3,546.2 225.3,543.7 227.3,536.9 228.3,532.9 231.3,518.7 232.3,514.5 233.3,510.9 234.3,507.9 235.3,505.7 236.3,504.5 237.3,504.5 238.3,505.5 239.3,507.2 240.3,509.3 244.3,519.6 245.3,521.4 246.3,522.6 247.3,523.3 248.3,523.8 249.3,524.2 250.3,524.4 251.3,524.3 252.3,523.8 253.3,522.6 254.3,521.0 256.3,516.6 257.3,514.1 258.3,511.1 261.3,500.3 262.3,497.2 263.3,494.9 264.3,493.9 265.3,494.0 266.3,495.1 268.3,498.5 269.3,499.6 270.3,499.5 271.3,497.8 272.3,494.7 274.3,487.6 275.3,484.8 276.3,482.4 277.3,480.5 278.3,479.5 279.3,480.2 280.3,482.9 281.3,487.5 284.3,505.6 285.3,510.8 286.3,514.8 287.3,517.6 288.3,519.5 289.3,520.6 290.3,520.7 291.3,520.1 292.3,519.0 295.3,514.8 296.3,513.6 297.3,513.0 298.3,513.0 299.3,513.6 300.3,514.8 304.3,520.8 306.3,523.6 307.3,524.8 308.3,525.6 309.3,525.9 310.3,525.6 311.3,524.8 312.3,523.5 315.3,519.1 316.3,517.8 320.3,513.5 321.3,512.7 322.3,512.0 323.3,511.6 324.3,511.5 325.3,511.7 326.3,512.2 330.3,514.9 331.3,515.3 332.3,515.5 333.3,515.4 334.3,515.2 339.3,512.9 340.3,512.7 341.3,513.0 342.3,514.0 343.3,515.8 344.3,518.4 350.3,536.0 351.3,538.1 352.3,539.4 353.3,539.9 354.3,539.8 355.3,539.4 356.3,538.8 357.3,537.9 358.3,536.7 359.3,534.9 362.3,527.5 363.3,525.5 364.3,524.1 365.3,523.4 366.3,523.2 367.3,523.1 373.3,523.1 383.3,523.8 384.3,523.7 385.3,523.2 386.3,522.3 387.3,520.9 388.3,518.8 389.3,516.1 390.3,512.3 393.3,498.1 395.3,490.5 396.3,488.0 397.3,486.6 398.3,486.6 399.3,487.7 400.3,489.6 402.3,495.1 403.3,498.6 405.3,507.4 410.3,531.4 411.3,535.4 412.3,538.7 413.3,541.1 414.3,543.1 415.3,544.6 416.3,545.8 417.3,546.6 418.3,547.1 421.3,548.1 429.3,550.0 431.3,550.3 432.3,550.4 434.3,550.2 440.3,548.6 442.3,548.5 444.3,548.8 449.3,550.2 452.3,550.4 455.3,550.0 457.3,549.3 461.3,547.6 463.3,547.1 464.3,547.0 466.3,547.4 471.3,549.6 473.3,550.1 476.3,550.5 480.3,550.4 482.3,550.1 483.3,549.9 485.3,548.9 486.3,548.2 488.3,546.1 492.3,541.0 493.3,540.0 494.3,539.3 495.3,539.0 496.3,539.2 497.3,539.8 498.3,540.7 502.3,545.6 503.3,546.5 504.3,547.2 505.3,547.5 506.3,547.6 507.3,547.4 508.3,546.9 511.3,545.2 512.3,544.8 513.3,544.7 514.3,544.8 515.3,545.1 516.3,545.7 519.3,547.9 521.3,549.2 523.3,550.0 525.3,550.4 529.3,550.6 533.3,550.3 535.3,549.9 540.3,548.2 542.3,547.9" stroke="#000" stroke-width="2.8"/>
<polyline points="83.3,550.6 188.3,550.6 191.3,550.5 193.3,550.2 198.3,549.2 200.3,549.0 202.3,549.1 208.3,550.3 210.3,550.5 213.3,550.5 217.3,550.1 224.3,549.0 233.3,546.9 237.3,546.2 241.3,545.9 253.3,545.4 255.3,545.2 257.3,544.8 260.3,543.7 263.3,542.0 265.3,540.5 267.3,538.4 269.3,535.7 270.3,534.0 271.3,532.0 274.3,525.0 276.3,521.0 277.3,519.3 278.3,518.0 279.3,517.3 280.3,517.2 281.3,517.9 282.3,519.0 283.3,520.5 286.3,525.7 287.3,527.2 288.3,528.1 289.3,528.3 290.3,528.0 291.3,527.3 292.3,526.3 296.3,521.3 297.3,520.3 298.3,519.6 299.3,519.3 300.3,519.2 301.3,519.5 302.3,519.9 306.3,522.1 307.3,522.5 308.3,522.8 309.3,522.6 310.3,521.8 311.3,520.3 312.3,518.0 315.3,510.0 319.3,501.0 320.3,499.3 321.3,498.1 322.3,497.5 323.3,497.7 324.3,498.5 325.3,499.8 328.3,505.4 331.3,511.9 332.3,513.4 333.3,513.9 334.3,513.2 335.3,511.5 336.3,509.1 338.3,503.6 339.3,501.2 340.3,499.2 341.3,497.6 342.3,496.5 343.3,496.1 344.3,496.4 345.3,497.8 346.3,499.8 351.3,512.7 352.3,514.6 353.3,515.6 354.3,515.5 355.3,514.4 356.3,512.6 359.3,505.3 362.3,497.2 363.3,494.9 364.3,493.3 365.3,492.7 366.3,492.9 367.3,493.6 369.3,495.5 370.3,496.1 371.3,496.3 372.3,495.7 373.3,494.2 375.3,489.8 379.3,479.1 380.3,477.3 381.3,476.7 382.3,477.3 383.3,479.1 384.3,481.6 386.3,487.6 389.3,497.6 390.3,499.8 391.3,500.5 392.3,499.5 393.3,497.4 395.3,491.8 396.3,489.5 397.3,488.5 398.3,489.0 399.3,491.2 400.3,494.5 407.3,522.3 409.3,529.7 411.3,536.3 412.3,538.9 413.3,541.2 414.3,543.0 415.3,544.6 416.3,545.8 417.3,546.6 419.3,547.5 422.3,548.2 424.3,548.4 427.3,548.4 430.3,548.2 434.3,547.7 436.3,547.0 439.3,545.8 441.3,545.3 442.3,545.3 444.3,545.5 448.3,546.2 450.3,546.3 451.3,546.3 453.3,545.9 456.3,545.1 462.3,543.0 463.3,542.9 464.3,542.9 465.3,543.0 466.3,543.4 471.3,546.0 475.3,547.7 478.3,548.9 482.3,549.8 484.3,550.0 485.3,550.0 487.3,549.5 492.3,547.8 494.3,547.4 496.3,547.5 501.3,548.5 502.3,548.5 503.3,548.3 504.3,547.9 505.3,547.3 506.3,546.4 510.3,542.1 511.3,541.2 512.3,540.6 513.3,540.3 514.3,540.4 515.3,540.9 516.3,541.7 521.3,547.3 523.3,548.9 525.3,549.8 526.3,550.0 528.3,550.1 530.3,549.7 531.3,549.3 532.3,548.6 533.3,547.7 534.3,546.5 535.3,545.0 540.3,535.6 541.3,534.3 542.3,533.5" stroke="#f00" stroke-width="2.8"/>
</g>
<rect x="83.3" y="388.3" width="459.09999999999997" height="161.40000000000003" fill="none" stroke="#000" stroke-width="2"/>
<path d="M83.3,517.4h10 M83.3,485.1h10 M83.3,452.9h10 M83.3,420.6h10 M83.3,533.6h5 M83.3,501.3h5 M83.3,469.0h5 M83.3,436.7h5 M83.3,404.4h5 M129.2,549.7v-5 M175.1,549.7v-10 M221.0,549.7v-5 M266.9,549.7v-10 M312.8,549.7v-5 M358.8,549.7v-10 M404.7,549.7v-5 M450.6,549.7v-10 M496.5,549.7v-5" stroke="#000" stroke-width="1.8" fill="none"/>
<text x="78.3" y="394.3" text-anchor="end" font-size="15.8">5</text>
<text x="78.3" y="426.6" text-anchor="end" font-size="15.8">4</text>
<text x="78.3" y="458.9" text-anchor="end" font-size="15.8">3</text>
<text x="78.3" y="491.1" text-anchor="end" font-size="15.8">2</text>
<text x="78.3" y="523.4" text-anchor="end" font-size="15.8">1</text>
<text x="78.3" y="555.7" text-anchor="end" font-size="15.8">0</text>
<text x="78.3" y="555.7" text-anchor="end" font-size="15.8">5</text>
<path d="M100.5,418.5h20.5" stroke="#000" stroke-width="2"/>
<path d="M100.5,444.2h20.5" stroke="#f00" stroke-width="2"/>
<text x="129.8" y="421.7" font-size="18">Ag<tspan font-size="13.5" dx="1.0" dy="7.2">interior</tspan></text>
<text x="129.8" y="447.4" font-size="18">Ag<tspan font-size="13.5" dx="1.0" dy="7.2">surface</tspan></text>
<text x="477.3" y="420.5" font-size="22">Ag<tspan font-size="16.5" dy="9">55</tspan></text>
<text transform="translate(58.6,469.0) rotate(-90)" text-anchor="middle" font-size="18">DOS / n<tspan font-size="14.3" dy="7.2">atoms</tspan></text>
<g clip-path="url(#c3)" fill="none" stroke-linejoin="round">
<polyline points="83.3,710.9 95.3,710.9 100.3,710.7 103.3,710.4 105.8,709.9 107.3,709.6 108.3,709.1 108.8,708.5 109.3,707.3 109.8,705.1 110.3,701.8 111.8,688.5 112.3,686.1 112.8,686.4 113.3,689.2 114.8,702.6 115.3,705.6 115.8,707.6 116.3,708.6 116.8,709.2 117.3,709.5 121.3,710.3 126.3,710.8 134.3,710.9 153.3,710.8 156.3,710.6 159.3,709.9 161.3,709.2 163.8,707.9 164.8,707.2 165.3,706.6 165.8,705.6 166.3,703.7 166.8,700.2 167.3,694.5 167.8,686.6 168.8,668.1 169.3,661.7 169.8,660.1 170.3,663.8 172.3,697.0 172.8,701.7 173.3,704.5 173.8,706.0 174.3,706.8 174.8,707.3 176.3,708.1 178.3,709.1 181.3,710.0 184.3,710.3 187.3,710.2 189.3,709.9 190.3,709.5 191.3,709.0 192.3,708.3 194.3,706.4 195.3,705.4 195.8,704.5 196.3,703.2 196.8,700.5 197.3,695.3 197.8,686.1 198.3,671.5 199.8,607.8 200.3,594.5 200.8,593.2 201.3,604.2 202.8,667.5 203.3,683.0 203.8,692.8 204.3,698.0 204.8,700.2 205.3,700.7 206.3,699.9 206.8,699.9 207.3,700.4 207.8,701.6 209.3,706.2 209.8,707.3 210.3,708.2 210.8,708.7 211.3,709.1 212.3,709.6 213.3,709.9 215.3,710.2 217.3,710.0 218.3,709.7 220.3,708.7 221.8,707.7 222.3,707.2 222.8,706.2 223.3,704.4 223.8,701.0 224.3,695.4 225.8,667.3 226.3,659.5 226.8,656.4 227.3,658.7 228.8,680.9 229.3,684.0 229.8,682.0 230.3,675.1 231.3,655.3 231.8,648.8 232.3,648.2 232.8,653.8 234.3,685.6 234.8,693.3 235.3,698.2 235.8,700.7 236.3,701.1 236.8,699.7 237.3,696.0 237.8,689.4 238.3,680.0 239.3,657.6 239.8,649.8 240.3,647.8 240.8,652.3 242.3,684.0 242.8,692.3 243.3,697.6 243.8,700.3 244.3,701.1 244.8,700.1 245.3,697.4 245.8,692.8 247.3,671.7 247.8,666.8 248.3,665.2 248.8,666.9 249.8,673.0 250.3,673.3 250.8,670.0 251.3,663.3 252.8,637.3 253.3,631.0 254.8,618.5 255.3,615.6 255.8,615.3 256.3,619.5 256.8,629.1 258.3,672.3 258.8,682.9 259.3,689.5 259.8,692.6 260.3,693.1 261.8,690.1 262.3,690.2 262.8,691.3 263.8,694.0 264.3,694.0 264.8,691.6 265.3,685.5 265.8,674.6 267.3,621.2 267.8,608.3 268.3,605.0 268.8,612.5 270.8,680.0 271.3,689.3 271.8,694.6 272.3,696.9 272.8,697.3 273.3,696.8 274.3,695.0 274.8,694.8 275.3,695.6 275.8,697.3 277.3,704.2 277.8,705.9 278.3,707.1 279.3,708.2 280.3,708.3 280.8,707.9 281.3,707.3 281.8,706.1 282.3,703.9 282.8,700.4 283.3,695.4 284.8,678.1 285.3,676.0 285.8,677.2 286.3,681.1 287.3,691.7 287.8,695.8 288.3,698.4 288.8,699.8 289.3,700.3 289.8,700.3 290.8,699.9 291.3,699.4 291.8,698.8 292.3,697.6 292.8,695.1 293.3,690.3 293.8,682.2 295.3,640.8 295.8,629.6 296.3,625.6 296.8,630.3 298.8,684.4 299.3,692.0 299.8,695.8 300.3,696.9 300.8,696.3 301.3,695.4 301.8,694.9 302.3,695.5 302.8,696.9 304.3,702.9 304.8,703.9 305.3,704.1 305.8,702.9 306.3,699.9 306.8,694.2 307.3,685.6 308.8,652.8 309.3,648.3 309.8,650.5 310.3,658.6 311.8,692.4 312.3,699.5 312.8,703.8 313.3,706.0 313.8,706.8 314.3,706.7 314.8,705.7 316.3,701.1 316.8,700.1 317.3,700.1 317.8,700.9 319.3,704.9 319.8,705.6 320.3,705.9 320.8,705.8 321.3,705.3 321.8,704.4 322.3,702.6 322.8,699.5 323.3,694.7 323.8,687.9 324.8,672.0 325.3,666.4 325.8,664.6 326.3,667.1 327.8,684.4 328.3,685.7 328.8,682.0 329.3,672.5 330.8,626.9 331.3,618.7 331.8,619.6 332.3,629.3 333.8,674.6 334.3,683.4 334.8,687.2 335.3,687.1 336.3,681.9 336.8,680.2 337.3,680.4 337.8,682.7 338.8,690.0 339.3,692.6 339.8,693.4 340.3,691.3 340.8,685.9 341.3,676.6 342.8,640.8 343.3,636.0 343.8,638.6 344.3,648.0 345.8,686.0 346.3,693.8 346.8,698.0 347.3,699.4 347.8,698.7 349.3,691.3 349.8,690.0 350.3,690.6 350.8,692.8 352.3,702.8 352.8,705.1 353.3,706.5 353.8,707.3 354.3,707.7 355.3,707.8 356.3,707.1 356.8,706.3 357.3,704.7 357.8,701.8 358.3,697.0 358.8,689.9 360.3,663.7 360.8,659.8 361.3,660.8 362.8,679.1 363.3,681.6 363.8,679.8 365.3,663.3 365.8,662.2 366.3,665.6 367.8,688.7 368.3,694.3 368.8,697.2 369.3,697.6 369.8,696.1 370.8,691.2 371.3,690.0 371.8,690.5 372.3,692.7 373.8,702.6 374.3,704.7 374.8,705.8 375.3,705.9 375.8,705.2 377.3,700.9 377.8,700.1 378.3,700.2 378.8,701.3 380.3,706.3 380.8,707.3 381.3,707.7 381.8,707.5 382.3,706.4 382.8,704.4 383.3,701.3 384.8,689.2 385.3,687.6 385.8,688.3 386.3,691.2 387.8,703.3 388.3,705.8 388.8,707.2 389.3,707.8 389.8,707.8 390.3,707.1 390.8,706.0 392.3,701.0 392.8,700.1 393.3,700.2 393.8,701.1 395.3,705.5 395.8,706.3 396.3,706.6 396.8,706.1 397.3,704.7 397.8,702.0 398.3,697.2 400.3,663.4 400.8,659.7 401.3,661.3 401.8,667.7 402.8,686.4 403.3,694.4 403.8,700.0 404.3,703.4 404.8,705.3 405.3,706.2 405.8,706.5 406.3,706.5 406.8,706.1 407.3,705.1 407.8,703.4 409.3,696.4 409.8,695.1 410.3,695.2 410.8,696.6 412.3,703.3 412.8,704.7 413.3,705.5 413.8,705.5 414.3,705.0 414.8,703.5 415.3,700.9 415.8,696.6 417.3,678.1 417.8,674.2 418.3,673.8 418.8,676.9 420.3,695.1 420.8,699.5 421.3,702.4 421.8,704.0 422.3,704.9 422.8,705.3 423.8,705.6 424.3,705.5 424.8,705.0 425.3,703.9 425.8,701.6 426.3,697.6 427.8,678.5 428.3,673.9 428.8,672.8 429.3,675.5 430.8,694.9 431.3,700.0 431.8,703.4 432.3,705.2 432.8,706.1 433.3,706.2 433.8,705.8 434.3,704.8 434.8,703.2 436.3,696.4 436.8,695.1 437.3,695.2 437.8,696.6 439.3,703.0 439.8,704.4 440.3,705.1 440.8,705.4 441.3,705.1 441.8,704.4 442.3,702.7 442.8,699.5 443.3,693.9 445.3,654.5 445.8,650.0 446.3,651.6 446.8,658.6 448.3,687.1 448.8,691.4 449.3,691.9 449.8,688.7 451.3,669.3 451.8,665.5 452.3,665.5 452.8,669.1 454.3,687.3 454.8,691.3 455.3,693.6 455.8,694.8 456.3,695.2 458.3,696.1 460.3,697.5 463.3,700.1 464.3,700.4 464.8,699.9 465.3,698.6 465.8,695.5 466.3,689.5 466.8,679.5 467.3,665.1 468.3,631.1 468.8,619.5 469.3,616.6 469.8,623.6 471.8,685.9 472.3,694.7 472.8,699.9 473.3,702.7 473.8,704.1 474.3,704.9 476.3,706.8 479.3,708.9 481.3,709.8 483.3,710.1 487.3,710.4 492.3,710.2 497.8,709.4 499.3,709.0 499.8,708.6 500.3,707.9 500.8,706.5 501.3,704.0 501.8,700.1 503.3,682.5 503.8,678.9 504.3,678.5 504.8,681.5 506.3,698.7 506.8,703.0 507.3,705.7 507.8,707.2 508.3,707.9 508.8,708.2 509.3,708.2 509.8,707.8 510.3,706.9 510.8,705.1 511.3,702.2 512.8,690.4 513.3,688.4 513.8,688.7 514.3,691.4 515.8,703.8 516.3,706.7 516.8,708.5 517.3,709.5 517.8,710.0 518.3,710.2 519.3,710.4 524.3,710.8 532.3,710.8 536.3,710.5 537.3,710.1 537.8,709.5 538.3,708.6 538.8,707.1 540.3,701.2 540.8,700.1 541.3,700.2 541.8,701.4 542.3,703.3" stroke="#111" stroke-width="1.1"/>
<polyline points="83.3,710.7 101.3,710.7 108.3,710.5 109.3,710.3 109.8,710.1 111.8,708.3 112.3,708.0 112.8,708.1 113.3,708.4 114.8,709.8 115.3,710.1 116.3,710.5 117.3,710.6 125.3,710.7 152.3,710.7 157.3,710.6 161.3,710.1 164.8,709.4 165.8,709.0 166.3,708.4 166.8,707.5 167.3,706.0 168.8,698.9 169.3,697.3 169.8,696.8 170.3,697.8 172.3,706.7 172.8,707.9 173.3,708.7 173.8,709.1 174.8,709.5 177.3,710.0 182.3,710.5 188.3,710.6 195.3,710.3 196.3,710.1 196.8,709.7 197.3,709.0 197.8,707.7 198.3,705.5 199.8,696.0 200.3,694.0 200.8,693.9 201.3,695.5 202.8,705.0 203.3,707.3 203.8,708.8 204.3,709.7 204.8,710.1 206.3,710.4 211.3,710.6 216.3,710.4 221.3,710.0 222.3,709.6 222.8,709.1 223.3,708.2 223.8,706.8 225.3,701.1 225.8,700.1 226.3,700.2 226.8,701.2 227.8,704.7 228.3,705.9 228.8,706.0 229.3,704.6 229.8,701.6 230.3,696.8 231.3,685.2 231.8,681.2 232.3,680.2 232.8,682.5 234.3,699.0 234.8,703.3 235.3,706.1 235.8,707.5 236.3,707.9 236.8,707.3 237.3,705.8 237.8,703.3 239.3,693.8 239.8,692.4 240.3,693.0 240.8,695.4 241.8,702.2 242.3,705.0 242.8,707.0 243.3,708.2 243.8,708.6 244.3,708.4 244.8,707.5 245.3,705.6 245.8,702.6 247.3,689.1 247.8,686.3 248.3,686.0 248.8,688.3 250.3,701.6 250.8,704.7 251.3,706.6 251.8,707.2 252.3,706.8 252.8,705.2 253.3,702.5 254.8,691.3 255.3,689.3 255.8,689.5 256.3,691.9 257.8,703.2 258.3,705.7 258.8,707.3 259.3,708.2 259.8,708.6 260.3,708.7 260.8,708.6 261.3,708.2 261.8,707.4 262.3,705.7 262.8,702.7 264.8,683.4 265.3,681.7 265.8,682.9 266.8,690.4 267.3,693.2 267.8,693.4 268.3,690.6 269.3,679.7 269.8,675.5 270.3,674.5 270.8,677.3 272.8,701.6 273.3,705.0 273.8,707.0 274.3,708.0 274.8,708.5 277.3,709.4 279.3,709.9 280.3,709.8 280.8,709.6 281.3,709.0 281.8,707.8 282.3,705.9 283.8,696.2 284.3,693.5 284.8,692.4 285.3,693.2 285.8,695.6 286.8,702.0 287.3,704.5 287.8,706.2 288.3,707.0 288.8,707.2 289.3,706.6 289.8,705.2 290.3,702.5 290.8,698.2 292.3,680.9 292.8,677.9 293.3,678.2 293.8,681.8 295.3,699.1 295.8,702.9 296.3,705.1 296.8,705.8 297.3,705.3 297.8,703.8 299.3,696.4 299.8,695.1 300.3,695.3 300.8,697.0 302.3,704.9 302.8,706.7 303.3,707.8 303.8,708.3 304.3,708.4 304.8,708.0 305.3,707.0 305.8,704.8 306.3,700.7 306.8,694.4 308.3,668.6 308.8,664.1 309.3,664.7 309.8,670.1 311.3,696.0 311.8,701.8 312.3,705.2 312.8,706.8 313.3,706.9 313.8,706.0 315.3,701.0 315.8,700.1 316.3,700.2 316.8,701.3 318.3,706.5 318.8,707.5 319.3,708.0 319.8,708.1 320.3,708.0 320.8,707.5 321.3,706.7 321.8,705.1 322.3,702.0 322.8,696.3 323.3,686.9 323.8,673.8 324.8,643.0 325.3,632.3 325.8,629.5 326.3,635.4 327.8,676.4 328.3,685.3 328.8,688.3 329.3,685.5 330.8,660.0 331.3,655.1 331.8,655.8 332.3,661.9 333.8,690.1 334.3,695.3 334.8,696.4 335.3,693.3 335.8,686.0 337.3,652.3 337.8,646.3 338.3,647.0 338.8,654.1 340.3,686.1 340.8,691.7 341.3,693.5 341.8,692.8 342.3,691.1 342.8,690.0 343.3,690.5 343.8,692.6 345.3,701.9 345.8,703.5 346.3,703.6 346.8,702.0 347.3,698.7 348.8,683.7 349.3,681.1 349.8,681.5 350.3,684.8 351.8,699.9 352.3,702.7 352.8,703.8 353.3,703.4 354.3,700.9 354.8,700.1 355.3,700.2 355.8,701.0 356.8,703.3 357.3,703.3 357.8,701.5 358.3,697.0 358.8,688.9 360.3,649.1 360.8,639.5 361.3,636.8 361.8,641.9 363.3,676.6 363.8,683.5 364.3,685.6 364.8,684.4 365.3,681.8 365.8,680.1 366.3,680.5 367.8,689.2 368.3,688.8 368.8,684.2 369.3,675.5 370.3,652.8 370.8,644.8 371.3,642.0 371.8,644.1 372.8,652.5 373.3,654.3 373.8,654.5 374.3,655.4 374.8,659.0 375.3,666.0 376.8,692.9 377.3,698.4 377.8,701.2 378.3,702.0 378.8,701.5 379.8,700.1 380.3,700.0 381.3,701.0 381.8,700.8 382.3,699.0 382.8,694.3 383.3,685.8 384.8,643.2 385.3,632.8 385.8,630.0 386.3,635.7 387.8,674.3 388.3,682.9 388.8,687.3 389.3,689.0 389.8,689.6 390.3,690.8 390.8,693.0 391.8,698.8 392.3,700.8 392.8,701.3 393.3,699.6 393.8,695.2 395.8,662.5 396.3,659.6 396.8,661.6 397.8,673.2 398.3,676.6 398.8,675.3 399.3,669.1 400.3,651.7 400.8,647.5 401.3,649.3 402.8,673.7 403.3,678.8 403.8,680.4 404.8,679.7 405.3,681.1 405.8,684.8 407.3,700.4 407.8,703.9 408.3,706.0 408.8,707.2 409.3,707.7 410.3,707.7 411.3,707.2 412.3,706.5 413.3,705.2 413.8,703.9 414.3,701.2 414.8,696.5 415.3,688.5 415.8,677.0 417.3,636.8 417.8,631.8 418.3,634.0 419.3,649.3 419.8,653.8 420.3,652.8 421.3,641.1 421.8,638.3 422.3,641.4 422.8,650.5 424.3,685.7 424.8,691.7 425.3,692.7 425.8,688.3 426.3,678.2 427.8,625.0 428.3,612.0 428.8,608.8 429.3,616.5 430.8,669.3 431.3,681.7 431.8,687.7 432.3,687.6 432.8,682.9 433.8,669.4 434.3,665.7 434.8,666.4 435.3,671.3 436.3,686.9 436.8,693.1 437.3,696.4 437.8,696.2 438.3,693.1 439.3,682.7 439.8,678.7 440.3,677.6 440.8,679.6 441.8,688.0 442.3,690.1 442.8,688.3 443.3,681.9 444.8,649.7 445.3,644.8 445.8,646.6 446.3,654.3 447.3,675.2 447.8,682.0 448.3,684.6 448.8,683.9 449.3,681.6 449.8,680.1 450.3,680.6 450.8,683.3 451.8,691.2 452.3,692.7 452.8,689.8 453.3,680.0 453.8,661.0 455.3,558.7 455.8,530.6 456.3,520.0 456.8,530.6 457.3,558.8 458.3,632.6 458.8,662.1 459.3,682.2 459.8,694.0 460.3,700.1 460.8,703.0 461.3,704.3 461.8,704.9 462.8,705.5 463.8,705.9 464.3,705.8 464.8,705.4 465.3,704.0 465.8,701.0 466.3,695.0 466.8,685.1 468.3,637.3 468.8,625.8 469.3,622.9 469.8,629.7 471.3,677.7 471.8,690.4 472.3,698.9 472.8,703.7 473.3,706.2 473.8,707.4 474.3,708.0 475.3,708.6 478.3,709.7 480.3,710.2 482.3,710.5 485.3,710.7 491.3,710.6 496.3,710.4 499.3,710.1 500.3,709.7 500.8,709.2 501.3,708.3 501.8,706.8 503.3,701.1 503.8,700.1 504.3,700.2 504.8,701.3 506.3,706.7 506.8,708.0 507.3,708.7 507.8,709.1 508.3,709.2 508.8,709.1 509.3,708.8 509.8,708.0 510.3,706.3 510.8,703.1 511.3,698.3 512.8,678.3 513.3,674.8 513.8,675.3 514.3,679.5 515.8,699.6 516.3,704.2 516.8,707.0 517.3,708.5 517.8,709.3 518.3,709.6 519.3,709.8 524.3,710.3 528.3,710.5 531.3,710.6 534.3,710.4 536.3,710.2 537.3,709.8 537.8,709.3 538.3,708.4 538.8,706.7 540.8,695.0 541.3,693.6 541.8,694.2 542.3,696.4" stroke="#e82028" stroke-width="1.1"/>
<polyline points="83.3,711.5 95.3,711.4 98.3,711.2 100.3,710.9 103.3,709.9 105.3,708.7 108.3,706.8 110.3,705.7 111.3,705.4 112.3,705.3 113.3,705.3 115.3,706.0 120.3,709.1 122.3,710.1 124.3,710.8 126.3,711.2 131.3,711.5 147.3,711.5 151.3,711.4 154.3,711.1 156.3,710.5 157.3,710.0 158.3,709.3 159.3,708.4 160.3,707.2 162.3,704.3 166.3,697.2 167.3,695.8 168.3,694.8 169.3,694.3 170.3,694.3 171.3,694.9 172.3,695.9 174.3,698.9 177.3,704.0 179.3,706.8 180.3,707.8 181.3,708.6 182.3,709.1 183.3,709.5 184.3,709.7 185.3,709.8 186.3,709.6 188.3,708.9 189.3,708.2 190.3,707.1 191.3,705.3 193.3,699.8 198.3,684.0 199.3,681.7 200.3,680.5 201.3,680.5 202.3,681.6 203.3,683.6 204.3,686.0 206.3,691.5 209.3,701.1 210.3,703.8 211.3,705.9 212.3,707.2 213.3,708.2 214.3,708.8 215.3,709.2 216.3,709.2 217.3,708.7 218.3,707.6 219.3,706.2 223.3,698.5 227.3,689.8 228.3,688.2 229.3,687.0 230.3,686.2 231.3,685.7 232.3,685.4 233.3,685.3 234.3,685.6 235.3,686.1 237.3,687.5 238.3,688.0 239.3,688.2 240.3,688.1 241.3,687.8 243.3,686.8 244.3,686.0 245.3,684.9 246.3,683.2 247.3,680.6 249.3,674.2 250.3,671.3 251.3,668.9 252.3,666.8 253.3,665.4 254.3,664.6 255.3,664.8 256.3,665.8 257.3,667.5 259.3,671.6 260.3,673.3 261.3,674.3 262.3,674.6 263.3,674.0 264.3,672.8 266.3,669.8 267.3,668.6 268.3,668.1 269.3,668.6 270.3,670.0 271.3,672.3 273.3,678.7 275.3,686.8 277.3,697.0 278.3,701.1 279.3,703.1 280.3,703.1 281.3,701.8 282.3,699.7 284.3,694.5 285.3,691.5 288.3,681.3 289.3,678.3 290.3,676.0 291.3,674.1 292.3,672.7 293.3,672.0 294.3,672.2 295.3,673.5 296.3,675.5 298.3,680.8 301.3,689.9 302.3,692.4 303.3,694.0 304.3,694.7 308.3,695.1 309.3,695.7 310.3,696.7 313.3,701.7 314.3,703.1 315.3,703.9 316.3,703.9 317.3,703.1 318.3,701.6 319.3,699.5 323.3,689.4 326.3,680.8 327.3,678.4 328.3,676.6 329.3,675.4 330.3,674.8 332.3,674.0 336.3,673.2 339.3,673.0 340.3,673.2 341.3,674.0 342.3,675.6 344.3,680.5 349.3,694.2 350.3,696.6 351.3,698.6 352.3,700.0 353.3,701.0 354.3,701.6 355.3,701.3 356.3,700.0 357.3,697.6 359.3,692.1 360.3,689.9 361.3,688.3 362.3,686.9 363.3,685.8 364.3,685.1 365.3,684.8 366.3,685.2 367.3,686.3 368.3,688.0 371.3,694.4 374.3,700.2 375.3,701.9 376.3,703.2 377.3,704.1 378.3,704.5 379.3,704.6 384.3,704.0 386.3,704.0 391.3,704.5 392.3,704.5 393.3,704.1 394.3,703.3 395.3,701.9 398.3,696.9 399.3,695.6 400.3,694.8 401.3,694.6 402.3,694.9 403.3,695.6 406.3,698.7 407.3,699.6 408.3,700.1 409.3,700.2 410.3,699.9 411.3,699.2 412.3,698.2 415.3,694.5 416.3,693.4 417.3,692.5 418.3,692.0 419.3,691.9 420.3,692.1 421.3,692.5 422.3,693.1 426.3,696.1 427.3,696.7 429.3,697.5 432.3,698.1 435.3,698.4 436.3,698.4 437.3,698.1 438.3,697.5 439.3,696.6 441.3,694.0 445.3,687.4 448.3,681.9 451.3,675.1 452.3,672.4 455.3,662.4 456.3,660.6 457.3,660.7 458.3,662.1 460.3,667.0 463.3,675.5 464.3,677.4 465.3,678.4 468.3,679.4 469.3,680.2 470.3,681.7 471.3,683.9 472.3,686.5 476.3,698.1 478.3,703.0 479.3,705.0 480.3,706.6 481.3,707.8 482.3,708.5 484.3,709.5 486.3,709.9 488.3,710.0 491.3,709.6 493.3,709.0 495.3,708.1 502.3,703.7 504.3,703.0 505.3,702.8 506.3,702.8 507.3,702.9 509.3,703.7 511.3,705.0 515.3,707.8 518.3,709.6 520.3,710.4 523.3,711.1 527.3,711.4 532.3,711.3 535.3,710.8 540.3,709.2 542.3,708.9" stroke="#000" stroke-width="2.8"/>
<polyline points="83.3,711.5 96.3,711.5 101.3,711.4 104.3,711.1 110.3,710.1 112.3,709.9 115.3,710.2 121.3,711.1 125.3,711.4 148.3,711.5 152.3,711.4 154.3,711.2 156.3,710.8 157.3,710.4 159.3,709.3 160.3,708.5 162.3,706.4 166.3,701.3 167.3,700.4 168.3,699.7 169.3,699.3 170.3,699.4 171.3,699.8 172.3,700.5 174.3,702.7 177.3,706.4 179.3,708.5 181.3,709.8 183.3,710.6 184.3,710.8 186.3,710.9 189.3,710.6 192.3,709.9 197.3,708.3 199.3,707.9 200.3,707.8 201.3,707.8 203.3,708.2 209.3,710.2 211.3,710.4 212.3,710.4 214.3,710.0 216.3,709.3 222.3,706.6 224.3,705.4 229.3,701.8 231.3,700.9 232.3,700.7 234.3,700.8 240.3,702.1 242.3,702.2 243.3,702.2 245.3,701.7 251.3,699.2 253.3,698.6 254.3,698.4 256.3,698.3 260.3,698.8 261.3,698.8 262.3,698.6 263.3,697.9 264.3,696.8 266.3,694.1 267.3,693.0 268.3,692.5 269.3,692.5 270.3,692.9 271.3,693.7 272.3,694.7 274.3,697.3 275.3,698.8 278.3,704.8 279.3,706.1 280.3,706.4 281.3,705.7 282.3,704.4 285.3,698.4 286.3,696.6 287.3,695.1 288.3,693.9 290.3,691.8 291.3,690.9 292.3,690.3 293.3,690.1 294.3,690.3 295.3,691.1 296.3,692.4 299.3,697.1 300.3,698.2 301.3,698.7 302.3,698.8 307.3,697.6 308.3,697.6 309.3,697.7 310.3,698.2 311.3,698.8 314.3,701.4 315.3,702.1 316.3,702.5 317.3,702.3 318.3,701.0 319.3,698.3 320.3,694.4 322.3,685.4 323.3,681.6 324.3,678.6 325.3,676.4 326.3,674.7 327.3,673.4 328.3,672.6 329.3,672.4 330.3,672.5 331.3,673.1 332.3,673.8 336.3,677.7 337.3,678.5 340.3,680.5 342.3,682.2 344.3,684.8 347.3,689.6 350.3,693.8 352.3,696.2 353.3,697.1 354.3,697.4 355.3,696.7 356.3,694.4 359.3,681.8 360.3,678.6 361.3,676.4 362.3,674.8 363.3,673.5 364.3,672.6 365.3,672.1 366.3,672.1 367.3,672.6 368.3,673.4 371.3,676.8 375.3,682.5 376.3,683.4 377.3,683.7 378.3,683.2 379.3,682.1 380.3,680.4 382.3,676.7 383.3,675.0 384.3,673.9 385.3,673.4 386.3,673.6 387.3,674.5 390.3,678.7 391.3,679.8 392.3,680.5 393.3,680.8 394.3,680.9 398.3,680.4 399.3,680.4 400.3,680.6 401.3,681.2 402.3,682.4 404.3,685.6 407.3,691.8 408.3,693.2 409.3,693.3 410.3,691.5 411.3,688.0 414.3,673.9 415.3,670.3 416.3,667.7 418.3,664.0 420.3,661.2 421.3,660.1 422.3,659.2 423.3,658.6 424.3,658.4 425.3,658.6 426.3,659.3 427.3,660.4 428.3,661.9 430.3,665.7 431.3,668.1 436.3,681.5 437.3,683.5 438.3,684.8 439.3,685.2 440.3,685.0 441.3,684.2 443.3,681.6 445.3,678.5 448.3,672.9 454.3,659.7 455.3,658.1 456.3,657.7 457.3,658.8 458.3,661.1 459.3,664.3 462.3,675.3 463.3,678.5 464.3,680.7 465.3,681.9 466.3,682.5 468.3,683.2 469.3,684.0 470.3,685.3 471.3,687.1 472.3,689.4 478.3,704.6 479.3,706.6 480.3,708.2 481.3,709.3 482.3,710.0 484.3,710.8 486.3,711.0 490.3,710.8 492.3,710.4 494.3,709.9 496.3,709.2 498.3,708.2 506.3,703.3 508.3,702.4 510.3,702.0 512.3,702.1 514.3,702.7 517.3,704.2 522.3,707.5 524.3,708.6 527.3,709.9 529.3,710.3 530.3,710.4 532.3,710.2 534.3,709.5 536.3,708.2 540.3,705.0 541.3,704.5 542.3,704.2" stroke="#f00" stroke-width="2.8"/>
</g>
<rect x="83.3" y="549.7" width="459.09999999999997" height="160.89999999999998" fill="none" stroke="#000" stroke-width="2"/>
<path d="M83.3,678.4h10 M83.3,646.2h10 M83.3,614.1h10 M83.3,581.9h10 M83.3,694.5h5 M83.3,662.3h5 M83.3,630.2h5 M83.3,598.0h5 M83.3,565.8h5 M129.2,710.6v-5 M175.1,710.6v-10 M221.0,710.6v-5 M266.9,710.6v-10 M312.8,710.6v-5 M358.8,710.6v-10 M404.7,710.6v-5 M450.6,710.6v-10 M496.5,710.6v-5" stroke="#000" stroke-width="1.8" fill="none"/>
<text x="78.3" y="587.9" text-anchor="end" font-size="15.8">4</text>
<text x="78.3" y="620.1" text-anchor="end" font-size="15.8">3</text>
<text x="78.3" y="652.2" text-anchor="end" font-size="15.8">2</text>
<text x="78.3" y="684.4" text-anchor="end" font-size="15.8">1</text>
<text x="78.3" y="716.6" text-anchor="end" font-size="15.8">0</text>
<text x="83.3" y="726.6" text-anchor="middle" font-size="16.5">-10</text>
<text x="175.1" y="726.6" text-anchor="middle" font-size="16.5">-8</text>
<text x="266.9" y="726.6" text-anchor="middle" font-size="16.5">-6</text>
<text x="358.8" y="726.6" text-anchor="middle" font-size="16.5">-4</text>
<text x="450.6" y="726.6" text-anchor="middle" font-size="16.5">-2</text>
<text x="542.4" y="726.6" text-anchor="middle" font-size="16.5">0</text>
<text x="209.9" y="744.6" font-size="19">Energy - Energy<tspan font-size="14" dx="1" dy="8">HOMO</tspan><tspan dy="-8"> [eV]</tspan></text>
<text x="4.8" y="722.5" font-size="21">(<tspan font-weight="bold">b</tspan>)</text>
<path d="M102.6,584.6h20.5" stroke="#000" stroke-width="2"/>
<path d="M102.6,610.3000000000001h20.5" stroke="#f00" stroke-width="2"/>
<text x="131.9" y="587.8000000000001" font-size="18">Au<tspan font-size="13.5" dx="1.0" dy="7.2">interior</tspan></text>
<text x="131.9" y="613.5000000000001" font-size="18">Au<tspan font-size="13.5" dx="1.0" dy="7.2">surface</tspan></text>
<text x="478.3" y="583.2" font-size="22">Au<tspan font-size="16.5" dy="9">55</tspan></text>
<text transform="translate(58.6,630.2) rotate(-90)" text-anchor="middle" font-size="18">DOS / n<tspan font-size="14.3" dy="7.2">atoms</tspan></text>
<g clip-path="url(#c4)" fill="none" stroke-linejoin="round">
<polyline points="80.4,923.1 144.4,923.0 146.4,922.8 147.4,922.3 148.9,921.3 149.9,921.0 150.9,921.2 152.9,922.5 154.4,922.9 156.4,923.0 163.9,922.8 165.4,922.7 166.4,922.4 167.4,921.8 168.9,920.5 169.9,920.0 170.4,920.1 170.9,920.3 172.4,921.5 173.4,922.2 174.9,922.5 190.4,922.1 191.9,921.9 192.9,921.2 193.9,919.8 195.4,916.9 195.9,916.2 196.4,916.0 196.9,916.2 197.4,916.8 199.4,920.4 199.9,921.0 200.9,921.6 201.9,921.8 202.9,921.8 210.9,921.5 211.9,921.3 212.4,921.0 212.9,920.5 213.4,919.6 214.4,916.7 215.9,910.3 216.4,908.8 216.9,908.0 217.4,908.3 217.9,909.5 219.9,917.3 220.4,918.7 220.9,919.5 221.4,920.0 221.9,920.1 222.4,920.0 222.9,919.6 224.9,916.9 225.4,916.4 225.9,916.0 226.4,916.0 226.9,916.2 228.9,917.8 229.4,917.9 229.9,917.8 230.4,917.4 230.9,916.6 231.4,915.4 232.4,911.7 233.4,907.1 233.9,905.3 234.4,904.2 234.9,904.0 235.4,904.7 236.9,909.4 237.4,910.7 237.9,911.6 238.4,912.1 238.9,912.1 239.4,911.6 239.9,910.6 240.4,909.0 240.9,906.7 242.4,897.3 242.9,894.7 243.4,893.2 243.9,893.1 244.4,894.4 245.9,902.2 246.4,904.2 246.9,905.4 247.4,905.7 247.9,905.1 248.4,904.0 250.9,896.2 251.4,894.3 252.4,889.2 255.4,872.4 257.4,853.8 257.9,850.5 258.4,849.1 258.9,849.7 259.4,851.8 260.4,857.3 260.9,859.4 261.4,860.6 262.4,862.1 263.9,865.1 264.4,865.3 264.9,864.3 265.4,861.3 265.9,856.1 268.4,812.1 268.9,807.2 269.4,805.1 269.9,805.5 270.4,807.3 271.4,813.6 272.4,823.3 273.9,843.1 274.4,848.0 274.9,850.5 275.4,850.4 275.9,847.7 277.4,835.7 277.9,833.7 278.4,833.2 279.4,834.0 279.9,833.3 280.4,831.1 281.4,824.7 281.9,822.7 282.4,822.9 282.9,825.3 283.9,832.7 284.4,834.4 284.9,833.1 285.4,828.4 286.9,805.3 287.4,801.3 287.9,801.8 288.4,806.7 289.9,833.7 290.9,847.3 291.9,854.3 292.9,858.6 293.4,859.9 293.9,860.1 294.4,858.6 294.9,855.1 296.4,836.8 296.9,832.0 297.4,830.0 297.9,831.4 298.4,835.9 299.9,855.5 300.4,859.7 300.9,861.6 301.4,861.7 302.4,859.9 302.9,859.8 303.4,861.2 305.4,873.8 305.9,874.9 306.4,874.1 306.9,870.8 307.4,865.4 308.9,845.0 309.4,841.0 309.9,840.0 310.4,842.0 312.4,863.0 312.9,866.5 313.4,868.8 313.9,869.9 314.4,870.3 314.9,870.2 315.4,869.6 315.9,868.3 316.4,865.8 316.9,861.6 317.4,855.1 317.9,845.9 319.9,796.1 320.4,789.4 320.9,788.5 321.4,793.4 321.9,803.0 323.4,839.3 323.9,847.7 324.4,852.6 324.9,854.1 325.4,852.2 325.9,847.5 327.4,825.2 327.9,819.6 328.4,817.0 328.9,818.0 329.4,822.4 330.9,842.8 331.4,847.6 331.9,849.8 332.4,849.4 332.9,846.4 334.4,830.0 334.9,826.2 335.4,824.8 335.9,826.3 337.4,838.6 337.9,841.5 338.4,842.7 339.4,843.2 339.9,844.5 340.4,847.6 340.9,852.5 342.4,871.3 343.4,880.4 343.9,883.2 344.4,885.0 344.9,886.0 345.4,886.6 345.9,886.5 346.4,885.8 346.9,884.3 347.4,881.9 347.9,878.3 349.4,864.4 349.9,860.7 350.4,858.7 350.9,858.5 351.4,859.9 352.4,864.2 352.9,865.2 353.4,864.7 353.9,862.9 354.9,857.9 355.4,856.1 355.9,855.5 356.4,855.7 356.9,856.1 357.4,855.9 357.9,854.8 359.4,848.9 359.9,848.7 360.4,850.2 361.9,860.3 362.4,862.3 362.9,862.4 363.4,860.7 364.4,854.6 364.9,852.4 365.4,851.9 365.9,853.2 367.4,862.7 367.9,864.9 368.4,865.9 368.9,866.0 369.4,865.8 369.9,865.8 370.4,866.7 370.9,868.4 372.4,875.7 372.9,877.1 373.4,877.4 373.9,876.2 374.4,873.3 374.9,868.9 376.4,850.6 376.9,845.7 377.4,843.0 377.9,842.9 378.4,845.0 379.9,855.9 380.4,857.9 380.9,857.8 381.4,855.9 381.9,852.2 383.4,838.2 383.9,835.5 384.4,834.7 384.9,835.5 385.4,837.0 385.9,837.9 386.4,837.3 386.9,834.6 388.4,820.6 388.9,818.2 389.4,818.3 389.9,820.8 390.9,828.1 391.4,830.1 391.9,830.1 392.4,828.1 393.4,822.7 393.9,821.9 394.4,823.5 394.9,827.7 395.4,833.7 396.9,854.3 397.9,864.3 400.4,881.7 402.4,896.9 403.4,904.0 404.4,909.6 405.4,913.6 406.4,916.0 407.4,917.4 408.4,918.0 409.4,918.1 417.4,916.7 418.4,916.2 418.9,915.7 419.4,914.7 419.9,913.5 421.4,908.3 421.9,906.9 422.4,906.3 422.9,906.6 423.4,907.7 425.4,915.8 425.9,917.3 426.4,918.5 427.4,919.8 428.4,920.4 429.4,920.7 434.4,921.2 436.4,921.2 438.4,920.6 440.4,919.9 441.9,919.1 442.9,918.1 443.4,917.2 444.4,914.4 446.4,905.4 446.9,904.0 447.4,903.6 447.9,904.2 448.4,905.7 449.9,912.1 450.4,913.8 450.9,915.0 451.4,915.8 451.9,916.3 452.4,916.6 453.4,916.8 455.9,916.9 456.9,916.6 459.4,915.1 459.9,915.0 460.4,915.1 461.4,915.8 462.9,917.2 463.9,917.8 470.4,920.5 472.4,921.0 476.4,921.2 478.4,921.2 479.4,921.0 481.4,920.3 485.4,918.4 486.4,917.5 486.9,916.7 487.9,914.1 489.4,909.3 489.9,908.3 490.4,908.0 490.9,908.4 491.4,909.4 492.9,913.6 493.4,914.5 493.9,914.9 494.4,915.0 494.9,914.7 496.4,913.2 496.9,913.0 497.4,913.1 497.9,913.6 500.4,917.0 501.4,917.8 502.4,918.1 503.4,917.9 503.9,917.5 504.9,915.9 506.4,912.7 506.9,912.1 507.4,912.0 507.9,912.5 508.4,913.5 509.9,917.2 510.4,918.2 510.9,918.8 511.4,919.1 511.9,919.0 512.4,918.5 512.9,917.6 513.4,916.3 514.9,911.0 515.4,909.7 515.9,909.1 516.4,909.4 516.9,910.4 518.4,915.6 519.4,918.2 519.9,919.0 520.4,919.4 520.9,919.6 521.9,919.7 523.9,919.3 524.9,919.1 525.9,918.6 526.9,917.6 528.9,914.0 529.4,913.4 529.9,913.0 530.4,913.1 530.9,913.6 532.9,916.8 533.9,917.7 534.4,917.9 535.4,918.1 538.4,918.0" stroke="#111" stroke-width="1.1"/>
<polyline points="80.4,923.1 217.4,923.0 227.4,922.6 229.4,922.4 230.4,922.0 230.9,921.7 232.9,919.6 233.4,919.2 233.9,919.0 234.4,919.1 234.9,919.4 236.9,921.4 237.9,922.0 239.4,922.2 243.9,922.2 245.4,922.0 246.4,921.6 247.4,920.7 248.9,918.8 249.4,918.3 249.9,918.0 250.4,918.1 250.9,918.3 252.4,919.8 253.4,920.4 254.4,920.5 255.4,920.0 256.4,919.2 256.9,918.6 258.9,915.2 259.9,914.1 260.4,913.9 260.9,914.0 262.4,915.0 262.9,915.2 263.4,915.2 263.9,914.9 264.4,914.3 264.9,913.5 266.9,908.1 267.4,906.9 267.9,906.1 268.4,905.8 268.9,906.0 270.4,907.7 270.9,908.1 271.4,908.3 271.9,908.1 272.4,907.8 272.9,907.1 273.4,906.3 273.9,905.1 274.4,903.5 274.9,901.1 275.4,898.0 277.9,874.1 278.4,871.3 278.9,870.5 279.4,871.5 280.9,880.0 281.4,882.4 281.9,883.9 282.4,884.5 282.9,884.3 283.4,883.5 283.9,881.9 284.4,879.5 284.9,875.9 285.4,870.6 285.9,863.7 287.4,837.3 287.9,830.5 288.4,826.8 288.9,826.7 289.4,829.7 290.9,846.3 291.4,850.6 291.9,853.4 292.4,854.8 292.9,855.1 293.4,854.0 293.9,851.6 295.9,834.5 296.4,832.8 296.9,834.1 297.4,838.4 297.9,844.9 299.4,867.0 300.4,876.3 300.9,878.9 301.4,880.6 301.9,881.5 302.4,882.2 303.4,882.7 304.4,882.7 304.9,882.3 305.4,881.6 305.9,880.3 306.4,878.1 306.9,874.6 307.9,862.6 309.4,836.5 309.9,830.0 310.4,826.7 310.9,827.2 311.4,831.1 312.9,850.2 313.4,854.4 313.9,856.3 314.4,856.2 314.9,854.7 316.4,848.3 316.9,845.8 317.4,842.3 317.9,837.3 319.4,816.0 319.9,810.6 320.4,808.5 320.9,810.2 321.4,815.3 322.9,837.6 323.4,842.6 323.9,844.9 324.4,844.2 324.9,840.6 326.9,811.6 327.4,807.5 327.9,807.1 328.4,810.5 330.4,838.8 330.9,843.1 331.4,845.2 331.9,845.2 332.4,843.7 334.4,832.2 334.9,830.3 335.9,827.6 336.4,825.1 336.9,820.7 337.4,813.9 338.9,788.9 339.4,785.0 339.9,785.8 340.4,791.2 341.9,819.7 342.4,826.9 342.9,831.4 343.4,833.5 343.9,834.0 344.4,834.1 344.9,834.8 345.4,836.4 346.4,840.9 346.9,842.2 347.4,841.7 347.9,838.7 348.4,833.5 349.9,813.1 350.4,809.0 350.9,807.8 351.4,809.5 351.9,813.6 353.9,836.2 354.4,839.9 354.9,841.8 355.4,841.4 355.9,838.1 356.4,831.5 356.9,821.6 358.4,781.3 358.9,770.8 359.4,764.8 359.9,764.3 360.4,768.2 361.9,788.3 362.4,792.6 363.9,802.4 366.4,832.8 366.9,836.1 367.4,837.4 367.9,836.4 368.4,832.9 368.9,826.5 369.9,803.9 371.4,758.7 371.9,748.9 372.4,744.6 372.9,746.3 374.4,767.3 374.9,772.3 375.4,774.6 376.4,776.2 376.9,778.6 377.4,783.1 378.9,803.9 379.9,815.1 380.9,822.6 381.4,825.3 381.9,826.8 382.4,826.7 382.9,824.0 383.4,819.0 384.9,797.0 385.4,792.5 385.9,791.3 386.4,793.3 387.4,802.0 387.9,805.1 388.4,805.9 388.9,804.3 389.9,798.8 390.4,797.9 390.9,799.6 392.4,812.7 392.9,814.4 393.4,812.6 393.9,807.3 394.9,791.8 395.4,785.8 395.9,783.8 396.4,786.3 396.9,793.3 399.9,857.7 400.9,874.5 401.9,888.3 402.4,894.1 403.4,903.2 404.4,909.4 405.4,913.3 406.4,915.6 407.4,916.9 408.4,917.4 409.4,917.4 409.9,917.2 410.4,916.9 410.9,916.3 411.4,915.4 412.4,912.1 414.4,901.8 414.9,900.4 415.4,900.2 415.9,901.2 416.4,903.3 417.9,911.1 418.4,912.9 418.9,914.2 419.4,914.7 419.9,914.6 420.4,914.0 422.4,908.8 422.9,908.1 423.4,908.1 423.9,908.8 424.4,910.2 426.4,917.2 427.4,919.1 428.4,920.0 429.4,920.4 431.4,920.8 433.4,921.0 435.4,921.0 437.9,920.3 441.9,918.7 442.9,918.1 443.9,917.0 444.4,916.0 444.9,914.5 445.9,909.7 447.4,900.1 447.9,897.9 448.4,897.1 448.9,897.8 449.4,899.8 451.4,911.5 451.9,913.4 452.4,914.7 452.9,915.5 453.4,915.9 453.9,916.2 454.4,916.2 454.9,916.1 455.4,915.7 455.9,915.0 456.4,913.9 457.4,909.6 458.9,900.8 459.4,898.9 459.9,898.2 460.4,899.0 460.9,901.0 462.9,912.7 463.4,914.7 463.9,916.0 464.4,916.9 464.9,917.5 465.9,918.2 470.4,920.1 472.4,920.7 475.4,920.9 478.4,920.9 479.4,920.6 480.4,920.2 481.4,919.4 481.9,918.5 482.4,917.3 482.9,915.6 483.4,913.3 484.9,904.3 485.4,901.9 485.9,900.6 486.4,900.6 486.9,901.9 488.9,911.9 489.4,913.6 489.9,914.6 490.4,915.0 490.9,915.1 493.4,914.9 493.9,914.6 494.4,913.8 494.9,912.4 495.9,907.5 496.9,901.3 497.4,898.8 497.9,897.6 498.4,897.8 498.9,899.4 500.4,908.0 500.9,910.3 501.4,911.7 501.9,912.3 502.4,912.2 503.4,911.4 503.9,911.3 504.4,911.6 504.9,912.5 506.9,917.5 507.9,918.9 508.9,919.6 510.4,919.8 511.4,919.6 512.4,919.0 513.9,917.5 514.4,917.2 514.9,917.0 515.4,917.1 515.9,917.4 517.9,919.3 518.4,919.6 519.4,919.8 520.9,919.8 523.4,919.3 524.4,919.0 525.4,918.5 525.9,918.0 526.4,917.1 526.9,915.8 527.9,911.8 529.4,904.5 529.9,903.3 530.4,903.1 530.9,904.0 531.4,905.8 532.9,912.8 533.4,914.5 533.9,915.6 534.4,916.2 534.9,916.3 535.4,916.0 535.9,915.3 537.9,910.9 538.4,910.2" stroke="#e82028" stroke-width="1.1"/>
<polyline points="80.4,923.5 142.4,923.3 161.4,923.1 207.4,921.1 217.4,920.3 220.4,919.8 222.4,919.3 225.4,918.1 229.4,916.2 232.4,914.5 235.4,912.4 242.4,907.0 245.4,904.4 247.4,902.4 248.4,901.1 249.4,899.5 250.4,897.3 251.4,894.2 252.4,890.5 257.4,867.2 259.4,859.1 261.4,852.0 263.4,846.2 266.4,839.0 267.4,837.1 268.4,835.9 269.4,835.3 270.4,835.4 271.4,836.0 274.4,839.2 275.4,839.9 276.4,840.1 277.4,839.9 278.4,839.2 281.4,836.5 283.4,835.2 285.4,834.4 286.4,834.2 287.4,834.2 288.4,834.6 289.4,835.5 290.4,836.9 294.4,843.9 300.4,853.1 304.4,860.2 305.4,861.4 306.4,861.9 307.4,861.6 308.4,860.7 309.4,859.2 311.4,855.1 313.4,849.7 316.4,839.1 317.4,835.9 318.4,833.4 319.4,831.5 320.4,830.0 321.4,828.9 322.4,828.2 323.4,827.9 324.4,828.2 325.4,829.1 326.4,830.6 329.4,835.8 330.4,837.2 333.4,840.4 334.4,841.6 335.4,843.1 337.4,847.3 341.4,856.9 343.4,861.0 344.4,862.6 345.4,863.9 346.4,865.0 347.4,865.8 348.4,866.1 349.4,866.1 350.4,865.4 351.4,864.4 354.4,860.4 356.4,858.2 357.4,857.3 358.4,856.6 359.4,856.3 360.4,856.4 361.4,856.7 365.4,859.2 366.4,859.6 367.4,859.9 368.4,859.8 369.4,859.5 371.4,858.4 374.4,855.8 376.4,853.7 377.4,852.4 379.4,849.3 380.4,847.6 382.4,843.3 386.4,833.0 389.4,826.2 390.4,824.2 391.4,822.6 392.4,821.6 393.4,821.2 394.4,821.5 395.4,822.4 396.4,824.5 397.4,828.5 398.4,834.8 399.4,843.6 400.4,854.5 403.4,891.6 404.4,901.0 405.4,907.5 406.4,911.7 407.4,914.0 408.4,914.9 409.4,915.0 410.4,914.8 415.4,913.2 416.4,913.1 417.4,913.1 418.4,913.3 420.4,914.0 422.4,915.0 426.4,917.9 428.4,919.0 431.4,920.3 433.4,920.7 434.4,920.8 435.4,920.6 436.4,920.3 438.4,919.3 441.4,917.4 444.4,915.1 446.4,914.0 449.4,913.2 451.4,913.0 454.4,913.2 460.4,914.0 462.4,914.5 464.4,915.2 466.4,916.3 470.4,919.0 471.4,919.5 473.4,920.1 476.4,920.3 478.4,920.2 479.4,919.9 480.4,919.4 484.4,916.6 486.4,915.6 490.4,914.3 492.4,913.8 494.4,913.5 496.4,913.4 498.4,913.7 500.4,914.5 504.4,916.5 506.4,917.3 508.4,917.8 511.4,918.4 515.4,918.9 517.4,918.8 519.4,918.5 526.4,916.5 528.4,916.0 533.4,915.4 538.4,915.0" stroke="#000" stroke-width="2.8"/>
<polyline points="80.4,923.5 215.4,923.4 219.4,923.2 230.4,922.4 247.4,921.7 250.4,921.3 252.4,920.6 254.4,919.4 258.4,916.3 261.4,913.8 263.4,911.8 265.4,909.6 267.4,907.0 269.4,904.1 271.4,900.6 273.4,896.3 275.4,890.7 279.4,877.7 285.4,857.3 286.4,854.3 287.4,851.9 288.4,849.9 289.4,848.3 290.4,847.1 291.4,846.2 292.4,845.8 293.4,845.9 294.4,846.5 295.4,847.4 297.4,849.5 301.4,854.6 302.4,855.7 303.4,856.2 304.4,856.3 305.4,855.8 306.4,854.9 307.4,853.5 309.4,850.4 312.4,845.2 316.4,837.2 318.4,833.7 321.4,828.9 323.4,826.4 324.4,825.6 325.4,825.1 326.4,824.8 330.4,824.2 331.4,823.8 332.4,822.7 335.4,817.4 336.4,816.1 337.4,815.2 338.4,814.4 339.4,813.9 340.4,813.7 341.4,813.9 342.4,814.4 345.4,817.3 346.4,818.2 347.4,818.7 348.4,818.6 349.4,818.0 350.4,816.8 351.4,815.2 356.4,806.1 357.4,804.4 358.4,803.2 359.4,802.6 360.4,802.6 362.4,803.6 363.4,803.8 364.4,803.1 365.4,801.6 366.4,799.3 369.4,791.6 371.4,787.3 372.4,785.5 373.4,784.3 374.4,784.1 375.4,784.8 376.4,786.4 380.4,795.9 381.4,798.1 382.4,799.8 383.4,800.7 384.4,801.0 387.4,800.6 388.4,800.6 389.4,800.9 390.4,801.7 391.4,803.1 392.4,805.0 393.4,807.4 394.4,810.7 395.4,814.8 396.4,820.0 397.4,826.3 398.4,834.0 399.4,843.3 400.4,854.5 403.4,891.6 404.4,900.9 405.4,907.1 406.4,911.0 407.4,913.1 408.4,913.9 409.4,914.0 410.4,913.8 415.4,912.4 417.4,912.4 418.4,912.5 420.4,913.2 422.4,914.2 426.4,917.3 428.4,918.5 431.4,919.7 433.4,920.1 434.4,920.1 435.4,919.9 437.4,919.1 440.4,917.3 444.4,914.4 445.4,913.8 446.4,913.3 448.4,912.7 451.4,912.3 454.4,912.5 460.4,913.3 462.4,913.8 464.4,914.5 466.4,915.6 470.4,918.5 471.4,919.0 473.4,919.6 476.4,919.8 478.4,919.7 479.4,919.4 480.4,918.8 484.4,916.0 486.4,915.2 490.4,914.1 494.4,913.4 496.4,913.4 498.4,913.7 500.4,914.5 505.4,916.9 507.4,917.6 511.4,918.3 515.4,918.7 517.4,918.6 519.4,918.3 529.4,915.3 535.4,914.0 538.4,913.5" stroke="#f00" stroke-width="2.8"/>
</g>
<rect x="80.4" y="761.3" width="458.4" height="161.30000000000007" fill="none" stroke="#000" stroke-width="2"/>
<path d="M80.4,882.3h10 M80.4,842.0h10 M80.4,801.6h10 M80.4,902.4h5 M80.4,862.1h5 M80.4,821.8h5 M80.4,781.5h5 M126.2,922.6v-5 M172.1,922.6v-10 M217.9,922.6v-5 M263.8,922.6v-10 M309.6,922.6v-5 M355.4,922.6v-10 M401.3,922.6v-5 M447.1,922.6v-10 M493.0,922.6v-5" stroke="#000" stroke-width="1.8" fill="none"/>
<text x="75.4" y="767.3" text-anchor="end" font-size="15.8">400</text>
<text x="75.4" y="807.6" text-anchor="end" font-size="15.8">300</text>
<text x="75.4" y="848.0" text-anchor="end" font-size="15.8">200</text>
<text x="75.4" y="888.3" text-anchor="end" font-size="15.8">100</text>
<text x="75.4" y="928.6" text-anchor="end" font-size="15.8">400</text>
<path d="M100.9,790.7h20.5" stroke="#000" stroke-width="2"/>
<path d="M100.9,816.4000000000001h20.5" stroke="#f00" stroke-width="2"/>
<text x="130.20000000000002" y="793.9000000000001" font-size="18">Ag<tspan font-size="13.5" dx="1.0" dy="7.2">interior</tspan></text>
<text x="130.20000000000002" y="819.6000000000001" font-size="18">Ag<tspan font-size="13.5" dx="1.0" dy="7.2">surface</tspan></text>
<text x="461.2" y="791.9" font-size="22">Ag<tspan font-size="16.5" dy="9">309</tspan></text>
<text transform="translate(48,842.0) rotate(-90)" text-anchor="middle" font-size="19">DOS</text>
<g clip-path="url(#c5)" fill="none" stroke-linejoin="round">
<polyline points="80.2,1084.2 100.2,1084.2 104.2,1084.0 107.2,1083.6 108.2,1083.3 109.2,1082.6 110.2,1081.3 111.7,1078.8 112.2,1078.3 112.7,1078.1 113.2,1078.3 113.7,1078.8 115.2,1081.3 116.2,1082.6 116.7,1083.0 117.7,1083.4 121.2,1083.9 125.2,1084.0 128.2,1083.8 131.2,1083.2 133.2,1082.6 134.2,1082.2 135.2,1081.3 135.7,1080.5 136.7,1077.8 138.2,1072.3 138.7,1070.9 139.2,1070.3 139.7,1070.6 140.2,1071.6 141.7,1077.1 142.7,1080.0 143.2,1080.9 144.2,1082.0 145.2,1082.5 146.2,1082.8 149.2,1083.4 151.2,1083.4 154.2,1082.8 156.2,1082.1 157.2,1081.6 158.2,1080.4 158.7,1079.3 159.7,1075.6 161.7,1064.5 162.2,1063.0 162.7,1062.9 163.2,1064.1 163.7,1066.4 165.2,1075.1 166.2,1079.0 166.7,1080.2 167.2,1080.9 167.7,1081.4 168.7,1082.0 171.2,1082.8 173.2,1083.0 175.2,1082.9 176.2,1082.5 176.7,1082.0 177.2,1081.3 177.7,1080.3 179.7,1073.8 180.2,1072.6 180.7,1072.0 181.2,1072.3 181.7,1073.3 183.7,1079.8 184.7,1081.8 185.2,1082.4 186.2,1082.8 187.2,1082.7 187.7,1082.4 188.7,1081.5 189.7,1079.5 190.2,1077.9 192.2,1069.9 192.7,1068.9 193.2,1068.7 193.7,1069.5 194.2,1071.0 195.7,1076.8 196.2,1078.2 196.7,1079.1 197.2,1079.6 197.7,1079.7 198.2,1079.6 199.7,1079.0 200.7,1079.1 201.7,1079.3 202.2,1079.2 202.7,1078.8 203.2,1077.8 203.7,1076.2 204.2,1073.9 205.7,1064.4 206.2,1061.8 206.7,1060.3 207.2,1060.4 207.7,1061.8 209.2,1070.3 209.7,1072.8 210.2,1074.6 210.7,1075.6 211.2,1075.6 211.7,1074.6 212.2,1072.7 212.7,1069.7 214.2,1057.6 214.7,1054.3 215.2,1052.5 215.7,1052.4 216.2,1054.1 217.7,1064.3 218.7,1069.5 219.2,1070.9 219.7,1071.7 220.2,1072.1 220.7,1072.2 221.2,1071.9 221.7,1071.3 222.2,1070.2 222.7,1068.5 224.2,1061.5 224.7,1059.6 225.2,1058.4 225.7,1057.9 227.2,1058.1 227.7,1057.7 228.7,1056.6 229.2,1056.6 229.7,1057.3 230.2,1058.8 231.7,1064.7 232.2,1066.2 232.7,1067.1 233.2,1067.7 233.7,1067.9 236.2,1068.8 237.2,1069.0 238.2,1068.8 239.2,1068.1 239.7,1067.4 240.2,1066.3 240.7,1064.7 241.2,1062.3 242.2,1054.2 243.7,1037.1 244.2,1032.6 244.7,1030.2 245.2,1029.8 245.7,1031.3 246.7,1036.2 247.2,1038.0 247.7,1038.8 248.7,1039.0 249.2,1039.8 249.7,1041.6 250.2,1044.6 251.7,1056.1 252.2,1059.2 252.7,1061.4 253.2,1062.8 253.7,1063.6 254.2,1063.9 254.7,1063.8 255.2,1063.6 255.7,1063.1 256.2,1062.4 256.7,1061.1 257.2,1059.1 257.7,1055.9 258.2,1051.2 258.7,1044.5 260.2,1016.7 260.7,1008.6 261.2,1003.5 261.7,1002.5 262.2,1005.6 262.7,1012.0 264.2,1036.4 264.7,1042.4 265.2,1046.6 265.7,1049.1 266.2,1050.3 266.7,1050.3 267.2,1049.1 267.7,1046.3 268.2,1041.7 268.7,1035.0 270.2,1008.9 270.7,1002.3 271.2,999.3 271.7,1000.3 272.2,1005.1 273.7,1029.7 274.7,1042.3 275.2,1046.0 275.7,1048.3 276.2,1049.4 276.7,1049.5 277.2,1048.9 278.7,1045.5 279.2,1044.8 279.7,1044.5 280.2,1044.3 280.7,1044.0 281.2,1042.8 281.7,1040.2 282.2,1035.8 283.7,1016.6 284.2,1011.5 284.7,1009.2 285.2,1010.0 285.7,1013.8 287.2,1032.4 287.7,1036.8 288.2,1039.1 288.7,1039.0 289.2,1036.9 290.7,1026.9 291.2,1025.4 291.7,1026.0 292.2,1028.6 293.7,1042.6 294.7,1050.2 295.2,1052.4 295.7,1053.7 296.2,1054.2 296.7,1054.1 298.2,1053.0 298.7,1052.9 299.2,1053.0 300.2,1053.6 300.7,1053.6 301.2,1053.1 301.7,1051.7 302.2,1049.2 302.7,1045.5 304.2,1030.7 304.7,1026.8 305.2,1024.5 305.7,1024.2 306.2,1025.4 307.7,1031.8 308.2,1033.0 309.2,1034.6 309.7,1035.7 312.2,1045.7 313.2,1048.5 313.7,1049.4 314.2,1050.0 314.7,1049.8 315.2,1048.6 315.7,1046.2 317.7,1029.9 318.2,1027.8 318.7,1027.7 319.2,1029.6 320.7,1040.9 321.2,1043.9 321.7,1045.7 322.2,1046.4 322.7,1046.3 323.7,1045.2 324.2,1044.9 324.7,1045.0 325.7,1045.7 326.2,1045.7 326.7,1045.0 327.2,1043.5 329.2,1032.3 329.7,1030.5 330.2,1029.9 330.7,1030.6 332.2,1036.0 332.7,1036.7 333.2,1035.8 333.7,1032.9 334.2,1027.8 335.7,1005.3 336.2,999.1 336.7,995.9 337.2,996.2 337.7,1000.0 339.7,1027.0 340.2,1031.2 340.7,1033.7 341.2,1034.9 341.7,1035.1 342.2,1034.8 342.7,1033.9 343.2,1032.4 343.7,1030.1 345.2,1021.6 345.7,1020.2 346.2,1020.2 346.7,1021.8 348.2,1029.5 348.7,1030.3 349.2,1029.8 350.2,1026.3 350.7,1025.1 351.2,1025.1 351.7,1026.8 352.2,1029.8 353.7,1041.1 354.2,1043.3 354.7,1043.8 355.2,1042.6 355.7,1039.5 357.7,1018.5 358.2,1015.7 358.7,1015.7 359.2,1018.4 359.7,1023.4 361.2,1041.7 361.7,1046.1 362.2,1048.9 362.7,1050.1 363.2,1049.9 363.7,1048.4 365.7,1036.8 366.2,1035.2 366.7,1035.1 367.2,1036.5 367.7,1039.3 369.2,1049.6 369.7,1052.1 370.2,1053.6 370.7,1053.8 371.2,1052.6 371.7,1049.8 372.2,1045.6 373.7,1029.0 374.2,1025.4 374.7,1024.3 375.2,1026.1 375.7,1030.3 377.2,1049.2 378.2,1058.3 378.7,1061.0 379.2,1062.7 379.7,1063.6 380.2,1064.1 380.7,1064.3 381.2,1064.1 381.7,1063.6 382.2,1062.6 382.7,1061.0 383.2,1058.6 385.2,1043.9 385.7,1041.2 386.2,1040.0 386.7,1040.5 387.2,1042.5 388.7,1052.3 389.2,1054.9 389.7,1056.7 390.2,1057.7 390.7,1057.8 391.2,1057.0 391.7,1055.3 392.2,1052.2 392.7,1047.8 394.7,1020.8 395.2,1016.2 395.7,1014.5 396.2,1016.1 396.7,1020.7 398.7,1047.5 399.2,1051.9 399.7,1054.9 400.2,1056.8 400.7,1057.8 401.2,1058.0 401.7,1057.4 402.2,1055.9 402.7,1053.4 403.2,1049.8 404.7,1035.8 405.2,1032.4 405.7,1030.8 406.2,1031.5 406.7,1034.1 408.2,1047.0 409.2,1053.3 409.7,1055.2 410.2,1056.5 411.2,1057.9 411.7,1058.0 412.2,1057.7 412.7,1056.6 413.2,1054.7 415.2,1042.7 415.7,1040.7 416.2,1039.8 416.7,1040.0 417.7,1041.8 418.2,1042.0 418.7,1041.0 419.2,1038.6 420.7,1028.0 421.2,1026.1 421.7,1026.2 422.2,1028.0 423.7,1038.0 424.2,1040.5 424.7,1042.0 426.2,1044.2 426.7,1045.3 428.2,1049.9 428.7,1051.0 429.2,1051.5 429.7,1051.2 430.2,1050.0 430.7,1047.7 431.2,1044.5 432.7,1033.2 433.2,1030.8 433.7,1030.0 434.2,1030.9 434.7,1033.3 436.2,1043.3 436.7,1045.8 437.2,1047.3 437.7,1047.9 438.2,1047.4 438.7,1045.7 439.2,1042.8 439.7,1038.4 441.7,1013.1 442.2,1009.1 442.7,1007.8 443.2,1009.5 443.7,1013.7 445.2,1031.1 445.7,1035.3 446.2,1038.0 446.7,1038.8 447.2,1037.7 447.7,1034.5 448.2,1029.0 448.7,1021.1 450.7,980.6 451.2,975.5 451.7,974.9 452.2,978.4 452.7,985.2 454.7,1016.4 456.7,1038.3 457.7,1047.6 458.7,1054.4 459.7,1058.9 461.2,1063.4 462.2,1065.5 462.7,1066.2 463.2,1066.6 463.7,1066.5 464.2,1065.7 464.7,1064.0 465.2,1061.5 466.7,1051.8 467.2,1049.7 467.7,1049.3 468.2,1050.6 470.2,1063.8 470.7,1065.8 471.2,1066.5 471.7,1066.4 472.7,1065.4 473.2,1065.6 473.7,1066.6 474.2,1068.5 475.7,1075.8 476.7,1079.4 477.2,1080.5 478.2,1081.7 479.2,1082.3 480.2,1082.7 481.7,1083.0 483.2,1083.2 485.2,1083.0 486.7,1082.5 489.7,1080.1 490.7,1080.0 492.7,1080.7 494.2,1080.9 496.2,1080.4 497.2,1079.9 498.2,1079.2 499.2,1077.9 499.7,1076.7 500.7,1073.1 502.2,1065.9 502.7,1064.4 503.2,1063.8 503.7,1064.4 504.2,1065.9 506.2,1075.1 506.7,1076.7 507.2,1077.8 507.7,1078.6 508.2,1079.1 509.2,1079.4 511.2,1079.0 512.2,1079.1 512.7,1079.3 514.7,1080.9 515.7,1081.4 516.7,1081.6 517.2,1081.4 517.7,1081.1 518.2,1080.5 519.2,1078.7 520.2,1076.4 520.7,1075.5 521.2,1075.0 521.7,1075.1 522.2,1075.6 524.2,1079.8 524.7,1080.5 525.2,1081.0 525.7,1081.2 526.2,1081.3 527.2,1081.2 528.2,1080.7 530.2,1079.3 532.7,1078.4 533.2,1077.9 533.7,1077.0 534.2,1075.7 535.7,1070.1 536.2,1068.7 536.7,1068.0 537.2,1068.2 537.7,1069.2 538.7,1072.7" stroke="#111" stroke-width="1.1"/>
<polyline points="80.2,1084.2 100.2,1084.2 112.2,1083.7 122.2,1084.1 128.2,1084.1 132.7,1083.7 135.2,1083.2 136.2,1082.8 138.2,1081.4 139.2,1081.0 140.2,1081.3 142.2,1082.7 143.7,1083.3 145.2,1083.5 148.2,1083.8 152.2,1083.8 156.2,1083.4 158.2,1082.9 159.7,1082.0 161.7,1079.9 162.2,1079.6 162.7,1079.6 163.2,1079.8 163.7,1080.2 165.7,1082.3 166.7,1082.8 169.2,1083.4 173.2,1083.9 176.2,1084.0 179.2,1083.8 188.2,1082.6 189.7,1082.0 192.2,1079.9 192.7,1079.6 193.2,1079.6 194.2,1080.1 196.2,1081.8 197.7,1082.4 204.2,1082.8 209.7,1082.7 210.7,1082.5 211.2,1082.2 211.7,1081.7 212.2,1081.0 212.7,1079.9 214.2,1075.7 214.7,1074.6 215.2,1074.0 215.7,1074.0 216.2,1074.7 217.7,1078.8 218.7,1081.0 219.2,1081.7 220.2,1082.4 221.7,1082.6 224.2,1082.5 225.2,1082.4 226.2,1082.0 227.2,1081.0 229.2,1077.9 229.7,1077.4 230.2,1077.2 230.7,1077.4 231.2,1077.9 233.2,1080.6 234.2,1081.2 235.2,1081.2 236.2,1080.7 236.7,1080.2 237.7,1078.6 239.2,1075.7 239.7,1075.2 240.2,1075.0 240.7,1075.2 242.7,1077.9 243.7,1078.6 244.2,1078.7 245.2,1078.6 247.2,1077.9 248.2,1077.3 249.2,1076.2 249.7,1075.3 250.7,1072.5 252.2,1067.7 252.7,1066.7 253.2,1066.5 253.7,1066.9 254.2,1067.9 255.7,1071.8 256.2,1072.8 256.7,1073.4 257.2,1073.7 258.2,1073.8 259.7,1073.2 260.7,1072.6 261.7,1071.2 262.2,1070.1 264.7,1061.7 265.2,1060.9 265.7,1060.8 266.7,1061.7 267.2,1062.0 267.7,1061.4 268.2,1059.6 268.7,1056.6 270.2,1044.9 270.7,1042.5 271.2,1042.0 271.7,1043.3 273.2,1052.7 274.2,1057.7 275.2,1060.4 276.2,1062.0 276.7,1062.3 277.2,1062.4 277.7,1061.9 280.2,1058.9 280.7,1057.9 281.2,1056.2 281.7,1053.6 283.2,1043.5 283.7,1041.4 284.2,1040.9 284.7,1042.1 285.2,1044.7 286.7,1054.4 287.2,1056.2 287.7,1056.8 288.2,1056.0 288.7,1053.9 290.2,1043.3 290.7,1040.4 291.2,1038.9 291.7,1039.2 292.2,1041.1 294.2,1055.6 294.7,1058.2 295.2,1059.9 295.7,1060.8 296.2,1061.2 299.2,1061.1 299.7,1060.8 300.2,1060.1 300.7,1058.7 301.2,1056.3 302.2,1048.3 303.7,1033.3 304.2,1030.6 304.7,1030.1 305.2,1031.7 306.7,1042.7 307.2,1045.2 307.7,1046.2 308.2,1045.5 309.7,1040.3 310.2,1040.0 310.7,1041.1 311.2,1043.6 312.7,1054.0 313.2,1056.8 313.7,1058.8 314.2,1060.0 314.7,1060.7 315.2,1061.0 316.2,1061.1 317.2,1061.0 318.2,1060.2 318.7,1059.3 319.2,1057.9 319.7,1055.7 320.7,1048.5 322.2,1033.3 322.7,1029.4 323.2,1027.0 323.7,1026.3 324.2,1027.0 324.7,1028.2 325.2,1028.8 325.7,1028.2 326.2,1026.0 327.7,1016.2 328.2,1015.3 328.7,1016.7 329.2,1020.3 330.7,1034.9 331.2,1038.0 331.7,1039.4 332.2,1039.4 332.7,1038.4 333.7,1035.7 334.7,1033.7 335.2,1032.3 335.7,1029.9 336.2,1026.0 337.7,1007.6 338.2,1002.7 338.7,1000.5 339.2,1001.8 339.7,1006.3 341.2,1028.7 342.2,1040.4 342.7,1043.9 343.2,1046.1 343.7,1047.5 344.2,1048.2 344.7,1048.6 345.2,1048.7 345.7,1048.6 346.2,1048.0 346.7,1046.9 347.2,1044.9 347.7,1041.5 348.2,1036.5 350.2,1007.6 350.7,1003.1 351.2,1001.9 351.7,1004.3 352.2,1009.6 353.7,1031.7 354.2,1037.5 354.7,1041.6 355.2,1044.2 355.7,1045.5 356.2,1045.8 356.7,1045.3 357.2,1043.9 357.7,1041.5 358.2,1037.8 358.7,1032.8 360.2,1013.0 360.7,1007.6 361.2,1004.3 361.7,1003.7 362.2,1005.3 363.2,1010.7 363.7,1012.0 364.2,1011.0 364.7,1007.9 365.7,999.3 366.2,996.6 366.7,996.5 367.2,999.2 368.7,1014.3 369.2,1017.1 369.7,1017.1 370.2,1014.5 371.7,1001.2 372.2,999.6 372.7,1000.9 373.2,1005.0 374.7,1025.4 375.7,1036.0 376.2,1039.2 376.7,1041.3 377.2,1042.5 377.7,1043.2 378.2,1043.6 379.2,1043.8 379.7,1043.6 380.2,1043.1 380.7,1041.9 381.2,1039.9 381.7,1036.4 382.2,1031.1 382.7,1023.8 384.7,986.6 385.2,982.2 385.7,982.4 386.2,986.8 388.2,1021.4 388.7,1027.5 389.2,1031.5 389.7,1033.7 390.2,1034.4 390.7,1034.2 391.2,1033.2 391.7,1031.4 392.2,1028.8 392.7,1024.8 393.2,1019.1 393.7,1011.4 395.2,981.8 395.7,974.6 396.2,971.2 396.7,972.6 397.2,978.3 399.2,1016.2 399.7,1022.6 400.2,1026.6 400.7,1028.4 401.2,1028.0 401.7,1025.7 402.2,1021.5 402.7,1015.7 404.2,996.3 404.7,992.9 405.2,992.7 405.7,995.7 406.2,1001.2 407.2,1014.9 408.2,1025.7 408.7,1028.8 409.2,1030.6 409.7,1031.1 410.2,1030.5 410.7,1028.6 411.2,1025.2 411.7,1020.0 412.2,1012.8 413.7,985.3 414.2,978.3 414.7,974.7 415.2,975.0 415.7,978.9 417.2,997.8 417.7,1000.7 418.2,999.7 418.7,994.9 419.2,986.4 420.7,956.9 421.2,952.5 421.7,953.6 422.2,959.7 424.2,1005.4 424.7,1014.2 425.2,1020.5 425.7,1024.9 426.2,1027.7 426.7,1029.4 427.2,1030.2 427.7,1030.2 428.2,1029.3 428.7,1027.2 429.2,1024.2 430.7,1012.9 431.2,1010.7 431.7,1009.9 432.2,1010.7 433.2,1013.1 433.7,1012.6 434.2,1009.8 434.7,1004.6 436.2,983.4 436.7,979.8 437.2,979.8 437.7,983.5 439.2,1003.9 439.7,1008.6 440.2,1010.4 440.7,1009.1 441.2,1004.8 442.7,986.6 443.2,983.7 443.7,984.2 444.2,988.5 444.7,995.6 446.2,1021.1 446.7,1026.9 447.2,1030.4 447.7,1031.3 448.2,1029.6 448.7,1025.3 449.2,1018.7 450.7,993.2 451.2,987.3 451.7,984.8 452.2,986.1 452.7,990.7 454.2,1011.3 455.7,1026.8 457.7,1044.4 458.7,1051.1 459.2,1053.5 459.7,1055.2 460.2,1056.5 461.7,1059.0 462.7,1061.2 464.2,1065.7 465.2,1068.3 466.2,1070.0 467.7,1071.6 468.7,1073.0 470.7,1076.2 472.2,1078.2 474.2,1080.0 476.2,1081.1 479.2,1082.4 481.2,1082.9 483.2,1083.2 485.2,1083.0 487.2,1082.5 488.2,1081.9 488.7,1081.3 489.2,1080.3 489.7,1078.8 490.2,1076.7 492.2,1063.7 492.7,1061.3 493.2,1060.4 493.7,1060.9 494.2,1062.8 495.7,1071.7 496.2,1074.0 496.7,1075.8 497.2,1076.8 497.7,1077.3 498.2,1077.5 499.2,1077.2 500.2,1076.4 500.7,1075.7 501.2,1074.6 501.7,1073.1 502.2,1070.9 504.2,1059.8 504.7,1058.5 505.2,1058.6 505.7,1060.1 506.2,1062.6 507.7,1072.2 508.2,1074.6 508.7,1076.2 509.2,1077.3 509.7,1077.8 510.2,1078.0 511.7,1077.9 512.2,1078.1 513.2,1079.0 514.7,1080.7 515.2,1081.2 516.2,1081.8 517.2,1082.2 519.2,1082.5 520.2,1082.5 521.2,1082.3 522.2,1081.7 524.2,1079.5 524.7,1079.1 525.2,1079.0 526.7,1078.9 527.2,1078.5 527.7,1077.6 528.2,1075.9 528.7,1073.3 530.7,1059.4 531.2,1057.7 531.7,1057.7 532.2,1059.3 533.7,1068.7 534.7,1073.5 535.2,1074.8 535.7,1075.7 536.7,1076.6 538.7,1077.9" stroke="#e82028" stroke-width="1.1"/>
<polyline points="80.2,1084.6 96.2,1084.6 101.2,1084.4 104.2,1084.1 110.2,1083.0 112.2,1082.8 115.2,1082.9 120.2,1083.9 122.2,1084.2 124.2,1084.3 126.2,1084.2 128.2,1083.9 130.2,1083.3 136.2,1080.6 138.2,1080.0 139.2,1079.9 140.2,1080.0 142.2,1080.5 146.2,1082.2 148.2,1082.9 150.2,1083.2 151.2,1083.2 152.2,1083.0 154.2,1082.3 159.2,1079.3 161.2,1078.5 162.2,1078.3 163.2,1078.4 165.2,1079.0 170.2,1081.7 172.2,1082.4 173.2,1082.6 175.2,1082.5 180.2,1081.6 182.2,1081.6 185.2,1082.4 186.2,1082.4 187.2,1082.2 188.2,1081.6 191.2,1079.3 192.2,1078.8 193.2,1078.6 194.2,1078.6 198.2,1079.5 199.2,1079.6 200.2,1079.5 201.2,1079.4 203.2,1078.6 206.2,1077.0 215.2,1072.9 228.2,1066.5 231.2,1064.8 235.2,1061.9 238.2,1059.2 240.2,1056.9 243.2,1052.5 244.2,1051.4 245.2,1050.8 246.2,1050.6 247.2,1050.8 250.2,1052.1 251.2,1052.4 252.2,1052.4 253.2,1052.1 254.2,1051.5 256.2,1049.4 258.2,1046.8 260.2,1043.7 263.2,1038.5 264.2,1037.4 265.2,1036.8 266.2,1036.6 267.2,1036.7 269.2,1037.2 272.2,1038.3 275.2,1039.8 276.2,1040.0 277.2,1039.7 278.2,1038.8 281.2,1034.8 283.2,1032.8 285.2,1031.4 286.2,1031.0 287.2,1030.9 288.2,1031.2 289.2,1031.8 293.2,1035.9 295.2,1037.8 297.2,1039.2 298.2,1039.6 299.2,1039.7 300.2,1039.5 304.2,1037.9 305.2,1037.7 306.2,1037.6 307.2,1037.8 308.2,1038.2 311.2,1040.1 313.2,1041.1 314.2,1041.3 315.2,1041.1 316.2,1040.7 317.2,1040.0 319.2,1038.0 324.2,1032.2 329.2,1025.7 333.2,1019.8 334.2,1018.6 335.2,1017.8 336.2,1017.4 337.2,1017.6 338.2,1018.2 339.2,1019.2 342.2,1022.9 343.2,1023.8 344.2,1024.5 346.2,1025.5 350.2,1026.9 352.2,1027.8 354.2,1029.1 362.2,1035.3 364.2,1036.9 366.2,1038.8 371.2,1043.8 376.2,1049.2 378.2,1050.9 379.2,1051.5 380.2,1051.9 381.2,1052.0 382.2,1051.8 383.2,1051.3 385.2,1049.5 388.2,1046.1 392.2,1042.3 394.2,1040.7 395.2,1040.3 396.2,1040.2 397.2,1040.5 398.2,1041.1 402.2,1044.5 405.2,1046.3 408.2,1047.6 409.2,1047.8 410.2,1047.9 411.2,1047.6 412.2,1046.9 413.2,1045.7 416.2,1040.7 417.2,1039.3 418.2,1038.3 419.2,1037.6 421.2,1037.0 426.2,1036.3 428.2,1035.9 430.2,1035.0 432.2,1033.7 436.2,1030.0 439.2,1026.8 444.2,1020.6 448.2,1015.3 449.2,1014.4 450.2,1014.0 451.2,1014.3 452.2,1015.5 453.2,1017.4 454.2,1019.9 455.2,1022.9 456.2,1026.5 457.2,1031.0 459.2,1041.0 461.2,1050.0 462.2,1053.7 464.2,1059.8 465.2,1062.2 467.2,1066.3 471.2,1073.3 473.2,1076.3 474.2,1077.5 475.2,1078.6 477.2,1080.2 480.2,1082.0 482.2,1082.7 484.2,1082.8 486.2,1082.5 489.2,1081.5 494.2,1079.2 497.2,1077.5 501.2,1074.6 502.2,1074.2 503.2,1074.0 504.2,1074.2 505.2,1074.6 506.2,1075.2 510.2,1078.5 512.2,1079.6 516.2,1080.6 520.2,1081.0 522.2,1081.0 525.2,1080.4 538.2,1076.3" stroke="#000" stroke-width="2.8"/>
<polyline points="80.2,1084.6 100.2,1084.5 104.2,1084.3 110.2,1083.8 112.2,1083.7 121.2,1084.4 126.2,1084.4 130.2,1084.1 136.2,1083.0 139.2,1082.7 142.2,1082.9 148.2,1083.9 151.2,1084.0 154.2,1083.6 159.2,1082.4 162.2,1082.0 165.2,1082.3 172.2,1083.9 174.2,1084.1 176.2,1084.2 178.2,1084.1 180.2,1083.7 187.2,1082.1 191.2,1081.5 195.2,1081.5 203.2,1082.1 206.2,1082.2 222.2,1081.9 226.2,1081.6 230.2,1081.0 234.2,1080.3 237.2,1079.5 239.2,1078.8 241.2,1077.9 261.2,1065.5 264.2,1063.9 267.2,1062.5 269.2,1061.9 270.2,1061.8 272.2,1062.0 275.2,1062.7 276.2,1062.7 277.2,1062.4 278.2,1061.6 279.2,1060.4 282.2,1056.0 285.2,1051.1 286.2,1049.7 287.2,1048.8 288.2,1048.4 289.2,1048.3 290.2,1048.3 296.2,1049.5 298.2,1049.5 299.2,1049.3 300.2,1048.9 305.2,1045.7 306.2,1045.3 307.2,1045.0 308.2,1045.1 309.2,1045.4 310.2,1046.0 313.2,1048.3 314.2,1049.0 315.2,1049.3 316.2,1049.1 317.2,1048.3 318.2,1046.8 319.2,1044.8 322.2,1037.8 323.2,1035.8 324.2,1034.4 325.2,1033.3 327.2,1031.6 329.2,1030.2 336.2,1026.0 338.2,1025.0 340.2,1024.5 341.2,1024.6 343.2,1025.1 346.2,1026.2 348.2,1026.7 349.2,1026.7 351.2,1026.2 352.2,1025.8 354.2,1024.6 356.2,1023.0 357.2,1021.9 360.2,1017.8 362.2,1015.9 365.2,1013.7 367.2,1012.7 368.2,1012.4 369.2,1012.3 370.2,1012.3 371.2,1012.6 373.2,1013.8 376.2,1016.1 378.2,1017.3 379.2,1017.6 380.2,1017.5 381.2,1017.2 382.2,1016.6 383.2,1015.8 385.2,1013.7 390.2,1007.9 394.2,1002.5 395.2,1001.4 396.2,1000.6 397.2,1000.2 398.2,1000.2 399.2,1000.5 400.2,1001.2 404.2,1005.2 405.2,1006.0 406.2,1006.6 407.2,1006.7 408.2,1006.2 409.2,1005.0 410.2,1003.1 417.2,985.1 418.2,983.1 419.2,982.0 420.2,981.8 421.2,982.6 422.2,984.1 424.2,988.5 426.2,994.3 428.2,1001.4 429.2,1004.3 430.2,1006.0 431.2,1006.5 432.2,1006.2 433.2,1005.5 436.2,1002.8 437.2,1002.1 438.2,1001.8 439.2,1001.9 440.2,1002.4 441.2,1003.2 445.2,1007.5 448.2,1010.4 450.2,1012.6 452.2,1015.5 453.2,1017.4 454.2,1019.5 455.2,1022.2 456.2,1025.6 458.2,1033.9 462.2,1051.5 463.2,1055.2 465.2,1061.0 466.2,1063.4 468.2,1067.6 471.2,1073.0 473.2,1076.2 474.2,1077.5 476.2,1079.4 479.2,1081.5 481.2,1082.4 483.2,1082.8 484.2,1082.7 486.2,1082.3 488.2,1081.4 492.2,1079.3 494.2,1077.9 498.2,1074.1 500.2,1072.4 501.2,1071.8 502.2,1071.5 503.2,1071.4 504.2,1071.6 505.2,1072.2 506.2,1073.0 510.2,1077.5 512.2,1079.1 514.2,1080.1 516.2,1080.9 518.2,1081.5 520.2,1081.9 522.2,1081.9 524.2,1081.4 531.2,1078.1 536.2,1076.0 538.2,1075.4" stroke="#f00" stroke-width="2.8"/>
</g>
<rect x="80.2" y="922.6" width="458.59999999999997" height="161.10000000000002" fill="none" stroke="#000" stroke-width="2"/>
<path d="M80.2,1043.4h10 M80.2,1003.2h10 M80.2,962.9h10 M80.2,1063.6h5 M80.2,1023.3h5 M80.2,983.0h5 M80.2,942.7h5 M126.1,1083.7v-5 M171.9,1083.7v-10 M217.8,1083.7v-5 M263.6,1083.7v-10 M309.5,1083.7v-5 M355.4,1083.7v-10 M401.2,1083.7v-5 M447.1,1083.7v-10 M492.9,1083.7v-5" stroke="#000" stroke-width="1.8" fill="none"/>
<text x="75.2" y="968.9" text-anchor="end" font-size="15.8">300</text>
<text x="75.2" y="1009.2" text-anchor="end" font-size="15.8">200</text>
<text x="75.2" y="1049.4" text-anchor="end" font-size="15.8">100</text>
<text x="75.2" y="1089.7" text-anchor="end" font-size="15.8">0</text>
<text x="80.2" y="1099.7" text-anchor="middle" font-size="16.5">-10</text>
<text x="171.9" y="1099.7" text-anchor="middle" font-size="16.5">-8</text>
<text x="263.6" y="1099.7" text-anchor="middle" font-size="16.5">-6</text>
<text x="355.4" y="1099.7" text-anchor="middle" font-size="16.5">-4</text>
<text x="447.1" y="1099.7" text-anchor="middle" font-size="16.5">-2</text>
<text x="538.8" y="1099.7" text-anchor="middle" font-size="16.5">0</text>
<text x="206.8" y="1117.7" font-size="19">Energy - Energy<tspan font-size="14" dx="1" dy="8">HOMO</tspan><tspan dy="-8"> [eV]</tspan></text>
<text x="4.8" y="1096.3" font-size="21">(<tspan font-weight="bold">c</tspan>)</text>
<path d="M100.5,955.1h20.5" stroke="#000" stroke-width="2"/>
<path d="M100.5,980.8000000000001h20.5" stroke="#f00" stroke-width="2"/>
<text x="129.8" y="958.3000000000001" font-size="18">Au<tspan font-size="13.5" dx="1.0" dy="7.2">interior</tspan></text>
<text x="129.8" y="984.0000000000001" font-size="18">Au<tspan font-size="13.5" dx="1.0" dy="7.2">surface</tspan></text>
<text x="466" y="954.8" font-size="22">Au<tspan font-size="16.5" dy="9">309</tspan></text>
<text transform="translate(48,1003.2) rotate(-90)" text-anchor="middle" font-size="19">DOS</text>
</svg>
</body></html>
